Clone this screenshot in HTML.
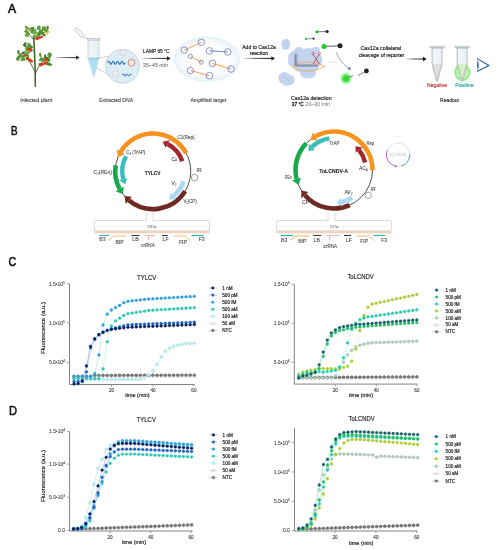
<!DOCTYPE html>
<html><head><meta charset="utf-8"><title>Figure</title>
<style>html,body{margin:0;padding:0;background:#fff;} svg{display:block;} text{font-family:"Liberation Sans", "DejaVu Sans", sans-serif;}</style>
</head><body>
<svg width="497" height="550" viewBox="0 0 497 550">
<rect width="497" height="550" fill="#fff"/>
<text x="8.10" y="13.00" font-size="12.6" fill="#111" textLength="8.1" lengthAdjust="spacingAndGlyphs" stroke="#111" stroke-width="0.6">A</text>
<text x="10.90" y="134.70" font-size="12.6" fill="#111" textLength="6.6" lengthAdjust="spacingAndGlyphs" stroke="#111" stroke-width="0.6">B</text>
<text x="8.40" y="266.10" font-size="12.6" fill="#111" textLength="7.7" lengthAdjust="spacingAndGlyphs" stroke="#111" stroke-width="0.6">C</text>
<text x="8.90" y="415.30" font-size="12.6" fill="#111" textLength="8.0" lengthAdjust="spacingAndGlyphs" stroke="#111" stroke-width="0.6">D</text>
<path d="M35.3,86.3 L35.2,70 L34.6,55 L34,42 L33.5,36" stroke="#46682a" stroke-width="1.6" fill="none" stroke-linecap="round"/>
<path d="M35,72 L31,64 L26,57 L20,54" stroke="#46682a" stroke-width="0.9" fill="none"/>
<path d="M35.2,74 L38.5,67 L43,60 L48,57" stroke="#46682a" stroke-width="0.9" fill="none"/>
<path d="M34.5,52 L30,48 L25,46" stroke="#46682a" stroke-width="0.8" fill="none"/>
<path d="M33.8,40 L40,34 L47,31 M33.8,40 L29,34 L26,30" stroke="#46682a" stroke-width="0.8" fill="none"/>
<ellipse cx="32.9" cy="28.7" rx="2.3" ry="1.15" transform="rotate(117 32.9 28.7)" fill="#4f8f30"/>
<ellipse cx="44.4" cy="28.0" rx="2.3" ry="1.15" transform="rotate(105 44.4 28.0)" fill="#5f9f3a"/>
<ellipse cx="26.4" cy="31.8" rx="2.3" ry="1.15" transform="rotate(13 26.4 31.8)" fill="#4f8f30"/>
<ellipse cx="38.2" cy="27.7" rx="2.3" ry="1.15" transform="rotate(102 38.2 27.7)" fill="#5f9f3a"/>
<ellipse cx="40.0" cy="33.4" rx="2.3" ry="1.15" transform="rotate(11 40.0 33.4)" fill="#72b048"/>
<ellipse cx="26.6" cy="29.4" rx="2.3" ry="1.15" transform="rotate(100 26.6 29.4)" fill="#5f9f3a"/>
<ellipse cx="32.2" cy="28.6" rx="2.3" ry="1.15" transform="rotate(21 32.2 28.6)" fill="#3f7a26"/>
<ellipse cx="38.4" cy="34.5" rx="2.3" ry="1.15" transform="rotate(19 38.4 34.5)" fill="#5f9f3a"/>
<ellipse cx="34.1" cy="33.0" rx="2.3" ry="1.15" transform="rotate(11 34.1 33.0)" fill="#4f8f30"/>
<ellipse cx="39.7" cy="32.5" rx="2.3" ry="1.15" transform="rotate(96 39.7 32.5)" fill="#3f7a26"/>
<ellipse cx="36.2" cy="37.2" rx="2.3" ry="1.15" transform="rotate(65 36.2 37.2)" fill="#5f9f3a"/>
<ellipse cx="43.8" cy="34.7" rx="2.3" ry="1.15" transform="rotate(44 43.8 34.7)" fill="#3f7a26"/>
<ellipse cx="37.6" cy="36.6" rx="2.3" ry="1.15" transform="rotate(131 37.6 36.6)" fill="#3f7a26"/>
<ellipse cx="39.5" cy="27.8" rx="2.3" ry="1.15" transform="rotate(92 39.5 27.8)" fill="#5f9f3a"/>
<ellipse cx="42.9" cy="28.7" rx="2.3" ry="1.15" transform="rotate(88 42.9 28.7)" fill="#4f8f30"/>
<ellipse cx="47.6" cy="27.9" rx="2.3" ry="1.15" transform="rotate(100 47.6 27.9)" fill="#3f7a26"/>
<ellipse cx="33.3" cy="30.9" rx="2.3" ry="1.15" transform="rotate(89 33.3 30.9)" fill="#72b048"/>
<ellipse cx="27.1" cy="28.0" rx="2.3" ry="1.15" transform="rotate(49 27.1 28.0)" fill="#4f8f30"/>
<ellipse cx="26.9" cy="34.7" rx="2.3" ry="1.15" transform="rotate(116 26.9 34.7)" fill="#72b048"/>
<ellipse cx="32.0" cy="31.2" rx="2.3" ry="1.15" transform="rotate(120 32.0 31.2)" fill="#4f8f30"/>
<ellipse cx="47.1" cy="30.9" rx="2.3" ry="1.15" transform="rotate(110 47.1 30.9)" fill="#72b048"/>
<ellipse cx="26.9" cy="35.5" rx="2.3" ry="1.15" transform="rotate(23 26.9 35.5)" fill="#5f9f3a"/>
<ellipse cx="34.7" cy="37.1" rx="2.3" ry="1.15" transform="rotate(89 34.7 37.1)" fill="#5f9f3a"/>
<ellipse cx="35.8" cy="33.0" rx="2.3" ry="1.15" transform="rotate(159 35.8 33.0)" fill="#72b048"/>
<ellipse cx="45.4" cy="30.1" rx="2.3" ry="1.15" transform="rotate(75 45.4 30.1)" fill="#3f7a26"/>
<ellipse cx="41.2" cy="31.2" rx="2.3" ry="1.15" transform="rotate(42 41.2 31.2)" fill="#4f8f30"/>
<ellipse cx="29.6" cy="29.6" rx="2.3" ry="1.15" transform="rotate(42 29.6 29.6)" fill="#72b048"/>
<ellipse cx="44.6" cy="29.0" rx="2.3" ry="1.15" transform="rotate(51 44.6 29.0)" fill="#5f9f3a"/>
<ellipse cx="35.1" cy="31.1" rx="2.3" ry="1.15" transform="rotate(102 35.1 31.1)" fill="#5f9f3a"/>
<ellipse cx="41.4" cy="32.7" rx="2.3" ry="1.15" transform="rotate(111 41.4 32.7)" fill="#4f8f30"/>
<ellipse cx="36.0" cy="36.6" rx="2.3" ry="1.15" transform="rotate(171 36.0 36.6)" fill="#72b048"/>
<ellipse cx="34.7" cy="31.3" rx="2.3" ry="1.15" transform="rotate(87 34.7 31.3)" fill="#72b048"/>
<ellipse cx="26.9" cy="27.7" rx="2.3" ry="1.15" transform="rotate(38 26.9 27.7)" fill="#5f9f3a"/>
<ellipse cx="28.0" cy="33.6" rx="2.3" ry="1.15" transform="rotate(18 28.0 33.6)" fill="#5f9f3a"/>
<ellipse cx="26.9" cy="49.4" rx="2.3" ry="1.15" transform="rotate(110 26.9 49.4)" fill="#4f8f30"/>
<ellipse cx="30.2" cy="47.2" rx="2.3" ry="1.15" transform="rotate(27 30.2 47.2)" fill="#3f7a26"/>
<ellipse cx="31.1" cy="47.2" rx="2.3" ry="1.15" transform="rotate(85 31.1 47.2)" fill="#4f8f30"/>
<ellipse cx="30.0" cy="49.7" rx="2.3" ry="1.15" transform="rotate(84 30.0 49.7)" fill="#72b048"/>
<ellipse cx="24.6" cy="44.2" rx="2.3" ry="1.15" transform="rotate(135 24.6 44.2)" fill="#3f7a26"/>
<ellipse cx="26.3" cy="47.7" rx="2.3" ry="1.15" transform="rotate(93 26.3 47.7)" fill="#5f9f3a"/>
<ellipse cx="31.0" cy="46.7" rx="2.3" ry="1.15" transform="rotate(26 31.0 46.7)" fill="#4f8f30"/>
<ellipse cx="29.1" cy="45.2" rx="2.3" ry="1.15" transform="rotate(116 29.1 45.2)" fill="#4f8f30"/>
<ellipse cx="28.5" cy="45.0" rx="2.3" ry="1.15" transform="rotate(66 28.5 45.0)" fill="#5f9f3a"/>
<ellipse cx="25.1" cy="44.7" rx="2.3" ry="1.15" transform="rotate(97 25.1 44.7)" fill="#3f7a26"/>
<ellipse cx="27.9" cy="47.2" rx="2.3" ry="1.15" transform="rotate(142 27.9 47.2)" fill="#5f9f3a"/>
<ellipse cx="27.2" cy="58.2" rx="2.3" ry="1.15" transform="rotate(133 27.2 58.2)" fill="#5f9f3a"/>
<ellipse cx="19.9" cy="55.4" rx="2.3" ry="1.15" transform="rotate(132 19.9 55.4)" fill="#4f8f30"/>
<ellipse cx="27.0" cy="55.3" rx="2.3" ry="1.15" transform="rotate(35 27.0 55.3)" fill="#3f7a26"/>
<ellipse cx="22.9" cy="59.2" rx="2.3" ry="1.15" transform="rotate(178 22.9 59.2)" fill="#3f7a26"/>
<ellipse cx="18.5" cy="52.2" rx="2.3" ry="1.15" transform="rotate(85 18.5 52.2)" fill="#3f7a26"/>
<ellipse cx="20.0" cy="56.5" rx="2.3" ry="1.15" transform="rotate(162 20.0 56.5)" fill="#4f8f30"/>
<ellipse cx="23.3" cy="56.8" rx="2.3" ry="1.15" transform="rotate(144 23.3 56.8)" fill="#4f8f30"/>
<ellipse cx="27.5" cy="52.3" rx="2.3" ry="1.15" transform="rotate(70 27.5 52.3)" fill="#5f9f3a"/>
<ellipse cx="23.2" cy="52.8" rx="2.3" ry="1.15" transform="rotate(142 23.2 52.8)" fill="#3f7a26"/>
<ellipse cx="18.5" cy="59.2" rx="2.3" ry="1.15" transform="rotate(130 18.5 59.2)" fill="#72b048"/>
<ellipse cx="22.3" cy="59.3" rx="2.3" ry="1.15" transform="rotate(130 22.3 59.3)" fill="#5f9f3a"/>
<ellipse cx="29.4" cy="51.5" rx="2.3" ry="1.15" transform="rotate(106 29.4 51.5)" fill="#72b048"/>
<ellipse cx="27.2" cy="52.5" rx="2.3" ry="1.15" transform="rotate(149 27.2 52.5)" fill="#72b048"/>
<ellipse cx="25.4" cy="54.2" rx="2.3" ry="1.15" transform="rotate(99 25.4 54.2)" fill="#5f9f3a"/>
<ellipse cx="17.8" cy="58.0" rx="2.3" ry="1.15" transform="rotate(131 17.8 58.0)" fill="#4f8f30"/>
<ellipse cx="23.8" cy="59.1" rx="2.3" ry="1.15" transform="rotate(78 23.8 59.1)" fill="#5f9f3a"/>
<ellipse cx="49.2" cy="56.0" rx="2.3" ry="1.15" transform="rotate(45 49.2 56.0)" fill="#3f7a26"/>
<ellipse cx="45.0" cy="62.7" rx="2.3" ry="1.15" transform="rotate(59 45.0 62.7)" fill="#72b048"/>
<ellipse cx="49.3" cy="54.2" rx="2.3" ry="1.15" transform="rotate(133 49.3 54.2)" fill="#72b048"/>
<ellipse cx="47.1" cy="63.3" rx="2.3" ry="1.15" transform="rotate(93 47.1 63.3)" fill="#5f9f3a"/>
<ellipse cx="45.4" cy="59.8" rx="2.3" ry="1.15" transform="rotate(3 45.4 59.8)" fill="#72b048"/>
<ellipse cx="48.6" cy="60.8" rx="2.3" ry="1.15" transform="rotate(140 48.6 60.8)" fill="#5f9f3a"/>
<ellipse cx="40.7" cy="59.2" rx="2.3" ry="1.15" transform="rotate(131 40.7 59.2)" fill="#4f8f30"/>
<ellipse cx="42.7" cy="59.7" rx="2.3" ry="1.15" transform="rotate(100 42.7 59.7)" fill="#4f8f30"/>
<ellipse cx="50.0" cy="54.2" rx="2.3" ry="1.15" transform="rotate(34 50.0 54.2)" fill="#4f8f30"/>
<ellipse cx="48.5" cy="59.6" rx="2.3" ry="1.15" transform="rotate(101 48.5 59.6)" fill="#4f8f30"/>
<ellipse cx="44.3" cy="60.9" rx="2.3" ry="1.15" transform="rotate(91 44.3 60.9)" fill="#5f9f3a"/>
<ellipse cx="47.5" cy="58.9" rx="2.3" ry="1.15" transform="rotate(96 47.5 58.9)" fill="#72b048"/>
<ellipse cx="45.1" cy="56.5" rx="2.3" ry="1.15" transform="rotate(94 45.1 56.5)" fill="#3f7a26"/>
<ellipse cx="50.5" cy="64.2" rx="2.3" ry="1.15" transform="rotate(36 50.5 64.2)" fill="#72b048"/>
<ellipse cx="40.3" cy="55.0" rx="2.3" ry="1.15" transform="rotate(80 40.3 55.0)" fill="#4f8f30"/>
<ellipse cx="47.2" cy="58.6" rx="2.3" ry="1.15" transform="rotate(38 47.2 58.6)" fill="#3f7a26"/>
<ellipse cx="48.7" cy="64.3" rx="2.3" ry="1.15" transform="rotate(28 48.7 64.3)" fill="#3f7a26"/>
<ellipse cx="40.4" cy="64.1" rx="2.3" ry="1.15" transform="rotate(174 40.4 64.1)" fill="#5f9f3a"/>
<circle cx="37.2" cy="38.6" r="1.7" fill="#e2321c"/>
<circle cx="39.8" cy="37.6" r="1.4" fill="#e2321c"/>
<circle cx="41.8" cy="36.8" r="1.2" fill="#e2321c"/>
<circle cx="29.1" cy="48.9" r="1.5" fill="#e2321c"/>
<circle cx="30.8" cy="50.4" r="1.4" fill="#e2321c"/>
<circle cx="27.7" cy="58.6" r="1.6" fill="#e2321c"/>
<circle cx="29.9" cy="59.9" r="1.5" fill="#e2321c"/>
<circle cx="31.5" cy="61.2" r="1.4" fill="#e2321c"/>
<circle cx="40.7" cy="64.8" r="1.7" fill="#e2321c"/>
<circle cx="42.8" cy="64.2" r="1.4" fill="#e2321c"/>
<circle cx="46.1" cy="59.4" r="1.6" fill="#e2321c"/>
<circle cx="45.6" cy="63.2" r="1.5" fill="#e2321c"/>
<circle cx="24.5" cy="55" r="1.1" fill="#e2321c"/>
<circle cx="27.5" cy="29.5" r="0.9" fill="#e9b52a"/>
<circle cx="29.5" cy="31" r="0.9" fill="#e9b52a"/>
<circle cx="45" cy="32" r="0.9" fill="#e9b52a"/>
<circle cx="47" cy="34" r="0.9" fill="#e9b52a"/>
<circle cx="48.5" cy="32" r="0.9" fill="#e9b52a"/>
<text x="36.20" y="101.50" font-size="5.9" fill="#333" text-anchor="middle" textLength="32" lengthAdjust="spacingAndGlyphs" stroke="#333" stroke-width="0.08">Infected plant</text>
<defs><linearGradient id="ag1" x1="0" x2="1" y1="0" y2="0"><stop offset="0" stop-color="#cfcfcf"/><stop offset="0.45" stop-color="#555"/><stop offset="1" stop-color="#111"/></linearGradient></defs>
<rect x="55.7" y="57.15" width="20.89999999999999" height="0.9" fill="url(#ag1)"/>
<polygon points="79.5,57.6 76.1,55.56 76.1,59.64" fill="#111"/>
<rect x="73.5" y="31" width="12" height="3.4" rx="1.5" transform="rotate(48 79.5 32.7)" fill="#f4f7f9" stroke="#9aa6ae" stroke-width="0.55"/>
<path d="M84,37 L87.5,38.8" stroke="#9aa6ae" stroke-width="0.6"/>
<rect x="87.2" y="38.6" width="12.6" height="1.6" fill="#e2e9ee" stroke="#9aa6ae" stroke-width="0.5"/>
<path d="M88,40.2 L99,40.2 L99,57.8 L94.2,76.4 L93.4,76.4 L88,57.8 Z" fill="#eef3f6" stroke="#a8b4bc" stroke-width="0.5"/>
<path d="M88.2,57.8 L98.8,57.8 L94.1,76 L93.5,76 Z" fill="#ade0f5"/>
<path d="M88.6,58.4 L98.4,58.4" stroke="#7cc4e8" stroke-width="0.8"/>
<line x1="96.5" y1="44" x2="98.6" y2="44" stroke="#9aa6ae" stroke-width="0.4"/><line x1="96.5" y1="48" x2="98.6" y2="48" stroke="#9aa6ae" stroke-width="0.4"/><line x1="96.5" y1="52" x2="98.6" y2="52" stroke="#9aa6ae" stroke-width="0.4"/>
<path d="M95.8,58.6 L108.6,56.2 M95.8,67.5 L109.5,75.6" stroke="#999" stroke-width="0.45" fill="none"/>
<circle cx="122.5" cy="66.3" r="16.9" fill="#dcedf7" stroke="#a8b6be" stroke-width="0.55"/>
<path d="M107.6,62.7 q1.1,-3 2.2,0 t2.2,0 t2.2,0 t2.2,0 t2.2,0 t2.2,0 t2.2,0 t2.2,0" stroke="#2f6fb0" stroke-width="1.15" fill="none"/>
<path d="M122.3,75 q0.9,-2.4 1.8,0 t1.8,0 t1.8,0 t1.8,0 t1.8,0" stroke="#2f6fb0" stroke-width="0.95" fill="none"/>
<circle cx="131.5" cy="62.7" r="3.4" fill="none" stroke="#f07a52" stroke-width="0.9"/>
<circle cx="123.1" cy="53" r="3.1" fill="none" stroke="#efc0b4" stroke-width="0.6"/>
<circle cx="115.4" cy="74" r="3.4" fill="none" stroke="#efc0b4" stroke-width="0.6"/>
<text x="116.20" y="101.50" font-size="5.9" fill="#333" text-anchor="middle" textLength="34" lengthAdjust="spacingAndGlyphs" stroke="#333" stroke-width="0.08">Extracted DNA</text>
<text x="143.00" y="53.00" font-size="5.9" fill="#222" textLength="26.5" lengthAdjust="spacingAndGlyphs" stroke="#222" stroke-width="0.18">LAMP 65 °C</text>
<defs><linearGradient id="ag2" x1="0" x2="1" y1="0" y2="0"><stop offset="0" stop-color="#cfcfcf"/><stop offset="0.45" stop-color="#555"/><stop offset="1" stop-color="#111"/></linearGradient></defs>
<rect x="143" y="57.9" width="24.5" height="1.0" fill="url(#ag2)"/>
<polygon points="170.6,58.4 167.0,56.239999999999995 167.0,60.56" fill="#111"/>
<text x="143.00" y="67.20" font-size="5.9" fill="#888" textLength="25" lengthAdjust="spacingAndGlyphs" stroke="#888" stroke-width="0.18">35–45 min</text>
<defs><radialGradient id="blobg" cx="0.5" cy="0.5" r="0.5"><stop offset="0.6" stop-color="#ffffff"/><stop offset="0.88" stop-color="#f0f7fb"/><stop offset="1" stop-color="#e2f0f7"/></radialGradient></defs>
<ellipse cx="207" cy="59.2" rx="33.2" ry="22.7" fill="url(#blobg)"/>
<line x1="184.3" y1="50.1" x2="201.4" y2="42.3" stroke="#f5a050" stroke-width="1"/>
<circle cx="184.3" cy="50.1" r="3.2" fill="none" stroke="#7379bb" stroke-width="0.8"/>
<circle cx="201.4" cy="42.3" r="3.2" fill="none" stroke="#7379bb" stroke-width="0.8"/>
<line x1="209.5" y1="50.9" x2="227.8" y2="51.9" stroke="#7a80c4" stroke-width="1"/>
<circle cx="209.5" cy="50.9" r="3.3" fill="none" stroke="#7379bb" stroke-width="0.8"/>
<circle cx="227.8" cy="51.9" r="3.3" fill="none" stroke="#7379bb" stroke-width="0.8"/>
<line x1="190.4" y1="56.4" x2="201.4" y2="62.2" stroke="#f5a050" stroke-width="1"/>
<circle cx="190.4" cy="56.4" r="2.1" fill="none" stroke="#7379bb" stroke-width="0.8"/>
<circle cx="201.4" cy="62.2" r="2" fill="none" stroke="#7379bb" stroke-width="0.8"/>
<line x1="212.5" y1="63.4" x2="231.1" y2="69" stroke="#f5a050" stroke-width="1"/>
<circle cx="212.5" cy="63.4" r="3.3" fill="none" stroke="#7379bb" stroke-width="0.8"/>
<circle cx="231.1" cy="69" r="3.3" fill="none" stroke="#7379bb" stroke-width="0.8"/>
<line x1="190.4" y1="70.5" x2="209.5" y2="75.7" stroke="#f5a050" stroke-width="1"/>
<circle cx="190.4" cy="70.5" r="3.2" fill="none" stroke="#7379bb" stroke-width="0.8"/>
<circle cx="209.5" cy="75.7" r="3.3" fill="none" stroke="#7379bb" stroke-width="0.8"/>
<text x="208.40" y="101.50" font-size="5.9" fill="#333" text-anchor="middle" textLength="36" lengthAdjust="spacingAndGlyphs" stroke="#333" stroke-width="0.08">Amplified target</text>
<text x="259.00" y="48.60" font-size="5.9" fill="#222" text-anchor="middle" textLength="33.6" lengthAdjust="spacingAndGlyphs" stroke="#222" stroke-width="0.18">Add to Cas12a</text>
<text x="259.00" y="55.30" font-size="5.9" fill="#222" text-anchor="middle" textLength="18.5" lengthAdjust="spacingAndGlyphs" stroke="#222" stroke-width="0.18">reaction</text>
<defs><linearGradient id="ag3" x1="0" x2="1" y1="0" y2="0"><stop offset="0" stop-color="#cfcfcf"/><stop offset="0.45" stop-color="#555"/><stop offset="1" stop-color="#111"/></linearGradient></defs>
<rect x="244" y="57.9" width="27.899999999999977" height="1.0" fill="url(#ag3)"/>
<polygon points="275,58.4 271.4,56.239999999999995 271.4,60.56" fill="#111"/>
<ellipse cx="297" cy="56" rx="8" ry="6" fill="#c4d4f0"/>
<ellipse cx="309" cy="56" rx="10" ry="8" fill="#c4d4f0"/>
<ellipse cx="316.5" cy="60" rx="6" ry="7" fill="#c4d4f0"/>
<ellipse cx="306" cy="66" rx="13" ry="7" fill="#c4d4f0"/>
<ellipse cx="308" cy="73" rx="8" ry="5.5" fill="#c4d4f0"/>
<ellipse cx="292" cy="62" rx="4" ry="4.5" fill="#c4d4f0"/>
<ellipse cx="316" cy="50.5" rx="4" ry="3.8" fill="#c4d4f0"/>
<ellipse cx="299" cy="51" rx="4.5" ry="4" fill="#c4d4f0"/>
<ellipse cx="291" cy="57" rx="3" ry="3.5" fill="#c4d4f0"/>
<ellipse cx="285.8" cy="44.3" rx="4.6" ry="5.5" fill="#c4d4f0"/>
<ellipse cx="284.5" cy="78" rx="6.2" ry="6" fill="#c4d4f0"/>
<ellipse cx="290" cy="80" rx="4.5" ry="5" fill="#c4d4f0"/>
<ellipse cx="287" cy="83" rx="4" ry="2.8" fill="#c4d4f0"/>
<path d="M283,75 L289,81 M285,43 L288,47" stroke="#a8b8d8" stroke-width="0.6" fill="none"/>
<path d="M291.9,67 Q305,57 325.1,66.6 Q305,76 291.9,67 Z" fill="none" stroke="#f2a24a" stroke-width="0.75"/>
<path d="M295.8,65.8 L295.8,54.5 M295.8,65.8 L317.9,65.8" stroke="#7a8096" stroke-width="1.3" fill="none"/>
<path d="M294.6,65 L294.6,54.2 A1.3,1.3 0 0 1 297.1,54.2 L297.1,64.6 L317.9,64.6" stroke="#7a8096" stroke-width="0.5" fill="none"/>
<path d="M313,54 L319.5,64 M319.5,54 L313,64" stroke="#b02828" stroke-width="0.7"/><circle cx="313" cy="53.5" r="1.1" fill="none" stroke="#b02828" stroke-width="0.5"/><circle cx="319.5" cy="53.5" r="1.1" fill="none" stroke="#b02828" stroke-width="0.5"/>
<line x1="316.9" y1="31.8" x2="327.1" y2="31.5" stroke="#5a5a9a" stroke-width="0.82"/>
<circle cx="316.9" cy="31.8" r="1.6" fill="#22c322"/>
<circle cx="327.1" cy="31.5" r="1.6" fill="#222"/>
<line x1="306.0" y1="38.9" x2="313.6" y2="38.6" stroke="#5a5a9a" stroke-width="0.71"/>
<circle cx="306.0" cy="38.9" r="1.05" fill="#22c322"/>
<circle cx="313.6" cy="38.6" r="1.05" fill="#222"/>
<line x1="324.1" y1="46.4" x2="340.0" y2="45.8" stroke="#5a5a9a" stroke-width="1.00"/>
<circle cx="324.1" cy="46.4" r="2.5" fill="#22c322"/>
<circle cx="340.0" cy="45.8" r="2.5" fill="#222"/>
<path d="M336.2,52.1 Q340,63 350.2,69" stroke="#5060b0" stroke-width="0.55" fill="none"/><polygon points="351.2,69.6 347.4,69.4 349.2,66.7" fill="#5060b0"/>
<defs><radialGradient id="glowg" cx="0.5" cy="0.5" r="0.5"><stop offset="0" stop-color="#30d030"/><stop offset="0.4" stop-color="#40dc40"/><stop offset="0.6" stop-color="#8aeb8a" stop-opacity="0.8"/><stop offset="1" stop-color="#c8f6c8" stop-opacity="0"/></radialGradient></defs>
<circle cx="346" cy="78.5" r="7.2" fill="url(#glowg)"/>
<line x1="348.6" y1="77.4" x2="353" y2="75.6" stroke="#5a5a8a" stroke-width="0.7"/>
<line x1="358" y1="75.5" x2="364.5" y2="72" stroke="#5a5aa0" stroke-width="0.8"/><circle cx="366.4" cy="71" r="2.4" fill="#222"/>
<path d="M327.5,62.5 l1.2,-0.8 l1.2,0.8 l1.2,-0.8 l1.2,0.8 l1.2,-0.8 l1.2,0.8 l1.2,-0.8 l1.2,0.8" stroke="#aaa" stroke-width="0.45" fill="none"/>
<text x="311.30" y="99.50" font-size="5.9" fill="#222" text-anchor="middle" textLength="40.5" lengthAdjust="spacingAndGlyphs" stroke="#222" stroke-width="0.18">Cas12a detection</text>
<text x="291.80" y="106.00" font-size="5.9" fill="#222" textLength="12" lengthAdjust="spacingAndGlyphs" stroke="#222" stroke-width="0.3">37 °C</text>
<text x="305.50" y="106.00" font-size="5.9" fill="#999" textLength="24.5" lengthAdjust="spacingAndGlyphs" stroke="#999" stroke-width="0.18">20–30 min</text>
<text x="380.80" y="49.90" font-size="5.9" fill="#222" text-anchor="middle" textLength="40.8" lengthAdjust="spacingAndGlyphs" stroke="#222" stroke-width="0.18">Cas12a collateral</text>
<text x="381.50" y="56.80" font-size="5.9" fill="#222" text-anchor="middle" textLength="45.7" lengthAdjust="spacingAndGlyphs" stroke="#222" stroke-width="0.18">cleavage of reporter</text>
<defs><linearGradient id="ag4" x1="0" x2="1" y1="0" y2="0"><stop offset="0" stop-color="#cfcfcf"/><stop offset="0.45" stop-color="#555"/><stop offset="1" stop-color="#111"/></linearGradient></defs>
<rect x="406.6" y="58.5" width="16.899999999999977" height="1.0" fill="url(#ag4)"/>
<polygon points="426.6,59 423.0,56.84 423.0,61.16" fill="#111"/>
<path d="M429.5,46.2 L444.70000000000005,46.2 L444.1,48.1 L430.1,48.1 Z" fill="#cbd3d8" stroke="#a5aeb4" stroke-width="0.4"/>
<path d="M432.1,48.1 L442.1,48.1 L442.1,64.1 L437.6,81.2 L436.6,81.2 L432.1,64.1 Z" fill="#eef4f7" stroke="#9aa4aa" stroke-width="0.7"/>
<path d="M432.5,64.1 L441.70000000000005,64.1 L437.45000000000005,80.6 L436.75,80.6 Z" fill="#e2e2e2"/>
<path d="M432.90000000000003,64.6 L437.1,80 L441.3,64.6" fill="none" stroke="#b0b8bc" stroke-width="0.5"/>
<line x1="439.70000000000005" y1="52.2" x2="441.70000000000005" y2="52.2" stroke="#9aa6ae" stroke-width="0.4"/><line x1="439.70000000000005" y1="56.2" x2="441.70000000000005" y2="56.2" stroke="#9aa6ae" stroke-width="0.4"/>
<defs><radialGradient id="tg" cx="0.5" cy="0.5" r="0.5"><stop offset="0" stop-color="#e2f8d8"/><stop offset="0.6" stop-color="#c4f2b4"/><stop offset="0.85" stop-color="#90e88a"/><stop offset="1" stop-color="#c8f5c0" stop-opacity="0.3"/></radialGradient></defs>
<ellipse cx="462.3" cy="72.2" rx="8.6" ry="9.6" fill="url(#tg)"/>
<path d="M454.5,46.2 L469.70000000000005,46.2 L469.1,48.1 L455.1,48.1 Z" fill="#cbd3d8" stroke="#a5aeb4" stroke-width="0.4"/>
<path d="M457.1,48.1 L467.1,48.1 L467.1,64.1 L462.6,81.2 L461.6,81.2 L457.1,64.1 Z" fill="#eef4f7" stroke="#9aa4aa" stroke-width="0.7"/>
<path d="M457.5,64.1 L466.70000000000005,64.1 L462.45000000000005,80.6 L461.75,80.6 Z" fill="#d4f2c4"/>
<path d="M457.90000000000003,64.6 L462.1,80 L466.3,64.6" fill="none" stroke="#b0b8bc" stroke-width="0.5"/>
<line x1="464.70000000000005" y1="52.2" x2="466.70000000000005" y2="52.2" stroke="#9aa6ae" stroke-width="0.4"/><line x1="464.70000000000005" y1="56.2" x2="466.70000000000005" y2="56.2" stroke="#9aa6ae" stroke-width="0.4"/>
<path d="M477.2,58.6 L489,65.5 L477.5,71.3" fill="none" stroke="#1f5f9a" stroke-width="1.1" stroke-linejoin="round" stroke-linecap="round"/>
<path d="M477.6,59.6 Q476.3,65.3 477.8,70.8 Q479.8,65.3 477.6,59.6 Z" fill="#1f5f9a"/>
<text x="437.10" y="87.20" font-size="5.9" fill="#c43a3a" text-anchor="middle" textLength="20" lengthAdjust="spacingAndGlyphs" stroke="#c43a3a" stroke-width="0.18">Negative</text>
<text x="464.40" y="87.20" font-size="5.9" fill="#2aa6a6" text-anchor="middle" textLength="18.5" lengthAdjust="spacingAndGlyphs" stroke="#2aa6a6" stroke-width="0.18">Positive</text>
<text x="449.50" y="102.30" font-size="5.9" fill="#333" text-anchor="middle" textLength="19" lengthAdjust="spacingAndGlyphs" stroke="#333" stroke-width="0.18">Readout</text>
<circle cx="153" cy="171.3" r="37.8" fill="none" stroke="#333" stroke-width="0.85"/>
<path d="M186.19,153.21 A37.8,37.8 0 0 0 120.63,151.78" fill="none" stroke="#f7931e" stroke-width="4.6"/>
<polygon points="117.95,157.14 124.70,154.23 116.56,149.32" fill="#f7931e"/>
<path d="M115.67,165.39 A37.8,37.8 0 0 0 119.60,188.99" fill="none" stroke="#16a84a" stroke-width="4.6"/>
<polygon points="122.81,194.05 123.79,186.77 115.40,191.21" fill="#16a84a"/>
<path d="M185.16,191.16 A37.8,37.8 0 0 1 128.75,200.30" fill="none" stroke="#6e2a22" stroke-width="4.6"/>
<polygon points="124.47,196.10 131.80,196.65 125.70,203.94" fill="#6e2a22"/>
<path d="M182.31,161.21 A31,31 0 0 0 167.63,143.97" fill="none" stroke="#a3262e" stroke-width="4.4"/>
<polygon points="162.58,141.82 165.63,147.72 169.64,140.22" fill="#a3262e"/>
<path d="M126.06,156.37 A30.8,30.8 0 0 0 123.22,179.15" fill="none" stroke="#38bdbd" stroke-width="4.4"/>
<polygon points="125.09,184.32 127.33,178.07 119.11,180.23" fill="#38bdbd"/>
<path d="M183.62,181.25 A32.2,32.2 0 0 1 173.61,196.04" fill="none" stroke="#a9d9f2" stroke-width="4.4"/>
<polygon points="169.10,199.19 170.89,192.78 176.33,199.31" fill="#a9d9f2"/>
<circle cx="194.6" cy="177.6" r="3.3" fill="#fff" stroke="#555" stroke-width="0.55"/>
<text x="152.60" y="174.70" font-size="5.9" fill="#111" text-anchor="middle" font-weight="bold" textLength="15.7" lengthAdjust="spacingAndGlyphs" stroke="#111" stroke-width="0.05">TYLCV</text>
<text x="177.50" y="139.00" font-size="5.0" fill="#444" textLength="17.1" lengthAdjust="spacingAndGlyphs" stroke="#444" stroke-width="0.08">C1(Rep)</text>
<text x="126.20" y="153.70" font-size="5.0" fill="#444" textLength="19.1" lengthAdjust="spacingAndGlyphs" stroke="#444" stroke-width="0.08">C<tspan font-size="3" dy="0.8">3</tspan><tspan dy="-0.8"> (TrAP)</tspan></text>
<text x="171.40" y="160.60" font-size="5.0" fill="#444" stroke="#444" stroke-width="0.08">C<tspan font-size="3" dy="0.8">4</tspan></text>
<text x="111.90" y="174.30" font-size="5.0" fill="#444" text-anchor="end" stroke="#444" stroke-width="0.08">C<tspan font-size="3" dy="0.8">2</tspan><tspan dy="-0.8">(REn)</tspan></text>
<text x="196.60" y="172.30" font-size="5.0" fill="#444" stroke="#444" stroke-width="0.08">IR</text>
<text x="171.40" y="185.30" font-size="5.0" fill="#444" stroke="#444" stroke-width="0.08">V<tspan font-size="3" dy="0.8">2</tspan></text>
<text x="183.50" y="203.00" font-size="5.0" fill="#444" textLength="13.1" lengthAdjust="spacingAndGlyphs" stroke="#444" stroke-width="0.08">V<tspan font-size="3" dy="0.8">1</tspan><tspan dy="-0.8">(CP)</tspan></text>
<circle cx="334" cy="170" r="38.5" fill="none" stroke="#333" stroke-width="0.85"/>
<path d="M372.50,170.34 A38.5,38.5 0 0 0 315.29,136.35" fill="none" stroke="#f7931e" stroke-width="4.6"/>
<polygon points="310.30,139.66 317.60,140.50 312.99,132.20" fill="#f7931e"/>
<path d="M306.31,143.26 A38.5,38.5 0 0 0 296.57,179.03" fill="none" stroke="#16a84a" stroke-width="4.6"/>
<polygon points="298.43,184.73 301.19,177.92 291.96,180.15" fill="#16a84a"/>
<path d="M349.78,205.12 A38.5,38.5 0 0 1 304.91,195.22" fill="none" stroke="#6e2a22" stroke-width="4.6"/>
<polygon points="301.35,190.40 308.50,192.11 301.32,198.33" fill="#6e2a22"/>
<path d="M329.33,138.34 A32,32 0 0 0 311.91,146.85" fill="none" stroke="#38bdbd" stroke-width="4.4"/>
<polygon points="308.28,150.97 314.84,149.92 308.98,143.77" fill="#38bdbd"/>
<path d="M365.12,162.53 A32,32 0 0 0 359.16,150.23" fill="none" stroke="#a3262e" stroke-width="4.4"/>
<polygon points="355.41,146.22 355.82,152.86 362.51,147.61" fill="#a3262e"/>
<path d="M352.17,197.55 A33,33 0 0 1 341.73,202.08" fill="none" stroke="#a9d9f2" stroke-width="4.4"/>
<polygon points="336.30,202.92 340.74,197.95 342.73,206.21" fill="#a9d9f2"/>
<circle cx="368.3" cy="195.4" r="3.1" fill="#fff" stroke="#555" stroke-width="0.55"/>
<text x="333.60" y="173.30" font-size="5.9" fill="#111" text-anchor="middle" font-weight="bold" textLength="28.8" lengthAdjust="spacingAndGlyphs" stroke="#111" stroke-width="0.05">ToLCNDV-A</text>
<text x="329.30" y="145.10" font-size="5.0" fill="#444" textLength="10.1" lengthAdjust="spacingAndGlyphs" stroke="#444" stroke-width="0.08">TrAP</text>
<text x="366.50" y="144.50" font-size="5.0" fill="#444" textLength="7.7" lengthAdjust="spacingAndGlyphs" stroke="#444" stroke-width="0.08">Rep</text>
<text x="358.90" y="169.70" font-size="5.0" fill="#444" stroke="#444" stroke-width="0.08">AC<tspan font-size="3.2" dy="0.9">4</tspan></text>
<text x="285.00" y="178.90" font-size="5.0" fill="#444" textLength="6.7" lengthAdjust="spacingAndGlyphs" stroke="#444" stroke-width="0.08">REn</text>
<text x="370.50" y="191.40" font-size="5.0" fill="#444" stroke="#444" stroke-width="0.08">IR</text>
<text x="344.40" y="194.40" font-size="5.0" fill="#444" stroke="#444" stroke-width="0.08">AV<tspan font-size="3.2" dy="0.9">2</tspan></text>
<text x="302.10" y="203.90" font-size="5.0" fill="#444" stroke="#444" stroke-width="0.08">CP</text>
<circle cx="398.1" cy="154.7" r="11.7" fill="none" stroke="#d0d0d0" stroke-width="0.6"/>
<path d="M387.3,150.2 A11.7,11.7 0 0 0 395.9,166.2" fill="none" stroke="#b455e6" stroke-width="0.9"/>
<polygon points="397.4,166.4 395.2,164.9 395.3,167.6" fill="#b455e6"/>
<path d="M409.8,154.2 A11.7,11.7 0 0 1 401.2,166" fill="none" stroke="#2aa0e8" stroke-width="0.9"/>
<line x1="398.1" y1="142" x2="398.1" y2="143.8" stroke="#bbb" stroke-width="0.4"/>
<text x="397.60" y="156.00" font-size="3.3" fill="#b8b8b8" text-anchor="middle" textLength="16.5" lengthAdjust="spacingAndGlyphs">ToLCNDV-A</text>
<text x="398.00" y="137.30" font-size="2.4" fill="#e4e4e4" text-anchor="middle" textLength="11" lengthAdjust="spacingAndGlyphs">ToLCNDV-A</text>
<path d="M146.7,212.2 L146.7,220.5 L95.4,220.5 Q94.4,220.5 94.4,221.5 L94.4,230.4 M153.2,212.2 L153.2,220.5 L208.5,220.5 Q209.5,220.5 209.5,221.5 L209.5,230.4" fill="none" stroke="#bdbdbd" stroke-width="0.55"/>
<rect x="94.4" y="230.3" width="115.1" height="3.1" fill="#ecd5c1"/>
<line x1="96.4" y1="226.7" x2="207.5" y2="226.7" stroke="#e2e2e2" stroke-width="0.4"/>
<text x="151.95" y="227.60" font-size="2.9" fill="#555" text-anchor="middle">239 bp</text>
<line x1="99.2" y1="235.5" x2="109.3" y2="235.5" stroke="#2bb3b3" stroke-width="1.1"/>
<text x="99.20" y="241.30" font-size="5.2" fill="#3a3a3a" stroke="#3a3a3a" stroke-width="0.06">B3</text>
<path d="M108.1,240.4 L114.1,236.0 L126.2,236.0" fill="none" stroke="#f4a640" stroke-width="0.8"/>
<text x="115.40" y="243.70" font-size="5.2" fill="#3a3a3a" stroke="#3a3a3a" stroke-width="0.06">BIP</text>
<line x1="131.5" y1="235.5" x2="139.5" y2="235.5" stroke="#333" stroke-width="1.0"/>
<text x="132.30" y="241.30" font-size="5.2" fill="#3a3a3a" stroke="#3a3a3a" stroke-width="0.06">LB</text>
<path d="M145,235.6 L154.7,235.6 M148.4,235.6 L148.4,240.6" fill="none" stroke="#f2a0a8" stroke-width="0.85"/>
<text x="141.20" y="247.30" font-size="5.2" fill="#3a3a3a" textLength="13.5" lengthAdjust="spacingAndGlyphs" stroke="#3a3a3a" stroke-width="0.06">crRNA</text>
<line x1="162" y1="235.5" x2="167.8" y2="235.5" stroke="#333" stroke-width="1.0"/>
<text x="162.50" y="241.30" font-size="5.2" fill="#3a3a3a" stroke="#3a3a3a" stroke-width="0.06">LF</text>
<path d="M173.3,236.0 L184.2,236.0 L190.2,240.6" fill="none" stroke="#f4a640" stroke-width="0.8"/>
<text x="178.90" y="243.70" font-size="5.2" fill="#3a3a3a" stroke="#3a3a3a" stroke-width="0.06">FIP</text>
<line x1="191.4" y1="235.5" x2="203.5" y2="235.5" stroke="#2bb3b3" stroke-width="1.1"/>
<text x="198.70" y="241.30" font-size="5.2" fill="#3a3a3a" stroke="#3a3a3a" stroke-width="0.06">F3</text>
<path d="M328.1,212.2 L328.1,220.5 L277.5,220.5 Q276.5,220.5 276.5,221.5 L276.5,230.4 M334.9,212.2 L334.9,220.5 L390.6,220.5 Q391.6,220.5 391.6,221.5 L391.6,230.4" fill="none" stroke="#bdbdbd" stroke-width="0.55"/>
<rect x="276.5" y="230.3" width="115.10000000000002" height="3.1" fill="#ecd5c1"/>
<line x1="278.5" y1="226.7" x2="389.6" y2="226.7" stroke="#e2e2e2" stroke-width="0.4"/>
<text x="334.05" y="227.60" font-size="2.9" fill="#555" text-anchor="middle">217 bp</text>
<line x1="281" y1="235.5" x2="293" y2="235.5" stroke="#2bb3b3" stroke-width="1.1"/>
<text x="281.00" y="241.90" font-size="5.2" fill="#3a3a3a" stroke="#3a3a3a" stroke-width="0.06">B3</text>
<path d="M289.6,240.4 L295.6,236.0 L309.2,236.0" fill="none" stroke="#f4a640" stroke-width="0.8"/>
<text x="298.20" y="243.20" font-size="5.2" fill="#3a3a3a" stroke="#3a3a3a" stroke-width="0.06">BIP</text>
<line x1="313.2" y1="235.5" x2="321" y2="235.5" stroke="#333" stroke-width="1.0"/>
<text x="313.50" y="241.90" font-size="5.2" fill="#3a3a3a" stroke="#3a3a3a" stroke-width="0.06">LB</text>
<path d="M326.2,235.6 L340.1,235.6 M329.59999999999997,235.6 L329.59999999999997,240.6" fill="none" stroke="#f2a0a8" stroke-width="0.85"/>
<text x="323.60" y="248.40" font-size="5.2" fill="#3a3a3a" textLength="13.5" lengthAdjust="spacingAndGlyphs" stroke="#3a3a3a" stroke-width="0.06">crRNA</text>
<line x1="344" y1="235.5" x2="351.1" y2="235.5" stroke="#333" stroke-width="1.0"/>
<text x="345.90" y="241.90" font-size="5.2" fill="#3a3a3a" stroke="#3a3a3a" stroke-width="0.06">LF</text>
<path d="M356.3,236.0 L368.6,236.0 L374.6,240.6" fill="none" stroke="#f4a640" stroke-width="0.8"/>
<text x="360.20" y="243.20" font-size="5.2" fill="#3a3a3a" stroke="#3a3a3a" stroke-width="0.06">FIP</text>
<line x1="373.3" y1="235.5" x2="385.1" y2="235.5" stroke="#2bb3b3" stroke-width="1.1"/>
<text x="381.20" y="241.90" font-size="5.2" fill="#3a3a3a" stroke="#3a3a3a" stroke-width="0.06">F3</text>
<path d="M69.5,283.8 L69.5,384.5 L194.5,384.5" fill="none" stroke="#7c7c7c" stroke-width="0.95"/>
<line x1="66.8" y1="283.8" x2="69.5" y2="283.8" stroke="#7c7c7c" stroke-width="0.7"/>
<text x="64.90" y="285.60" font-size="5.0" fill="#333" text-anchor="end" textLength="16" lengthAdjust="spacingAndGlyphs" stroke="#333" stroke-width="0.06">1.5•10<tspan font-size="3.3" dy="-2">5</tspan></text>
<line x1="66.8" y1="323.0" x2="69.5" y2="323.0" stroke="#7c7c7c" stroke-width="0.7"/>
<text x="64.90" y="324.80" font-size="5.0" fill="#333" text-anchor="end" textLength="16" lengthAdjust="spacingAndGlyphs" stroke="#333" stroke-width="0.06">1.0•10<tspan font-size="3.3" dy="-2">5</tspan></text>
<line x1="66.8" y1="362.3" x2="69.5" y2="362.3" stroke="#7c7c7c" stroke-width="0.7"/>
<text x="64.90" y="364.10" font-size="5.0" fill="#333" text-anchor="end" textLength="16" lengthAdjust="spacingAndGlyphs" stroke="#333" stroke-width="0.06">5.0•10<tspan font-size="3.3" dy="-2">4</tspan></text>
<line x1="111.5" y1="384.5" x2="111.5" y2="386.8" stroke="#7c7c7c" stroke-width="0.7"/>
<text x="111.50" y="392.10" font-size="4.6" fill="#333" text-anchor="middle" stroke="#333" stroke-width="0.1">20</text>
<line x1="153" y1="384.5" x2="153" y2="386.8" stroke="#7c7c7c" stroke-width="0.7"/>
<text x="153.00" y="392.10" font-size="4.6" fill="#333" text-anchor="middle" stroke="#333" stroke-width="0.1">40</text>
<line x1="193.9" y1="384.5" x2="193.9" y2="386.8" stroke="#7c7c7c" stroke-width="0.7"/>
<text x="193.90" y="392.10" font-size="4.6" fill="#333" text-anchor="middle" stroke="#333" stroke-width="0.1">60</text>
<text x="137.40" y="397.20" font-size="5.6" fill="#222" text-anchor="middle" textLength="24.2" lengthAdjust="spacingAndGlyphs" stroke="#222" stroke-width="0.18">time (min)</text>
<text x="146.70" y="279.80" font-size="6.9" fill="#222" text-anchor="middle" textLength="19.2" lengthAdjust="spacingAndGlyphs" stroke="#222" stroke-width="0.15">TYLCV</text>
<text x="0" y="0" font-size="6.0" fill="#222" stroke="#222" stroke-width="0.15" text-anchor="middle" textLength="52" lengthAdjust="spacingAndGlyphs" transform="translate(45.3 328) rotate(-90)">Fluorescence (a.u.)</text>
<polyline points="74.00,376.00 78.15,376.00 82.30,376.00 86.45,376.00 90.60,376.00 94.75,376.00 98.90,376.00 103.05,376.00 107.20,376.00 111.35,376.00 115.50,376.00 119.65,376.00 123.80,376.00 127.95,376.00 132.10,376.00 136.25,376.00 140.40,376.00 144.55,376.00 148.70,376.00 152.85,376.00 157.00,376.00 161.15,376.00 165.30,376.00 169.45,376.00 173.60,376.00 177.75,376.00 181.90,376.00 186.05,376.00 190.20,376.00 194.35,376.00" fill="none" stroke="#bbbbbb" stroke-width="0.45"/>
<circle cx="74.00" cy="376.00" r="1.38" fill="#ffffff" stroke="#999999" stroke-width="0.4"/>
<circle cx="78.15" cy="376.00" r="1.38" fill="#ffffff" stroke="#999999" stroke-width="0.4"/>
<circle cx="82.30" cy="376.00" r="1.38" fill="#ffffff" stroke="#999999" stroke-width="0.4"/>
<circle cx="86.45" cy="376.00" r="1.38" fill="#ffffff" stroke="#999999" stroke-width="0.4"/>
<circle cx="90.60" cy="376.00" r="1.38" fill="#ffffff" stroke="#999999" stroke-width="0.4"/>
<circle cx="94.75" cy="376.00" r="1.38" fill="#ffffff" stroke="#999999" stroke-width="0.4"/>
<circle cx="98.90" cy="376.00" r="1.38" fill="#ffffff" stroke="#999999" stroke-width="0.4"/>
<circle cx="103.05" cy="376.00" r="1.38" fill="#ffffff" stroke="#999999" stroke-width="0.4"/>
<circle cx="107.20" cy="376.00" r="1.38" fill="#ffffff" stroke="#999999" stroke-width="0.4"/>
<circle cx="111.35" cy="376.00" r="1.38" fill="#ffffff" stroke="#999999" stroke-width="0.4"/>
<circle cx="115.50" cy="376.00" r="1.38" fill="#ffffff" stroke="#999999" stroke-width="0.4"/>
<circle cx="119.65" cy="376.00" r="1.38" fill="#ffffff" stroke="#999999" stroke-width="0.4"/>
<circle cx="123.80" cy="376.00" r="1.38" fill="#ffffff" stroke="#999999" stroke-width="0.4"/>
<circle cx="127.95" cy="376.00" r="1.38" fill="#ffffff" stroke="#999999" stroke-width="0.4"/>
<circle cx="132.10" cy="376.00" r="1.38" fill="#ffffff" stroke="#999999" stroke-width="0.4"/>
<circle cx="136.25" cy="376.00" r="1.38" fill="#ffffff" stroke="#999999" stroke-width="0.4"/>
<circle cx="140.40" cy="376.00" r="1.38" fill="#ffffff" stroke="#999999" stroke-width="0.4"/>
<circle cx="144.55" cy="376.00" r="1.38" fill="#ffffff" stroke="#999999" stroke-width="0.4"/>
<circle cx="148.70" cy="376.00" r="1.38" fill="#ffffff" stroke="#999999" stroke-width="0.4"/>
<circle cx="152.85" cy="376.00" r="1.38" fill="#ffffff" stroke="#999999" stroke-width="0.4"/>
<circle cx="157.00" cy="376.00" r="1.38" fill="#ffffff" stroke="#999999" stroke-width="0.4"/>
<circle cx="161.15" cy="376.00" r="1.38" fill="#ffffff" stroke="#999999" stroke-width="0.4"/>
<circle cx="165.30" cy="376.00" r="1.38" fill="#ffffff" stroke="#999999" stroke-width="0.4"/>
<circle cx="169.45" cy="376.00" r="1.38" fill="#ffffff" stroke="#999999" stroke-width="0.4"/>
<circle cx="173.60" cy="376.00" r="1.38" fill="#ffffff" stroke="#999999" stroke-width="0.4"/>
<circle cx="177.75" cy="376.00" r="1.38" fill="#ffffff" stroke="#999999" stroke-width="0.4"/>
<circle cx="181.90" cy="376.00" r="1.38" fill="#ffffff" stroke="#999999" stroke-width="0.4"/>
<circle cx="186.05" cy="376.00" r="1.38" fill="#ffffff" stroke="#999999" stroke-width="0.4"/>
<circle cx="190.20" cy="376.00" r="1.38" fill="#ffffff" stroke="#999999" stroke-width="0.4"/>
<circle cx="194.35" cy="376.00" r="1.38" fill="#ffffff" stroke="#999999" stroke-width="0.4"/>
<polyline points="74.00,376.40 78.15,376.40 82.30,376.40 86.45,376.40 90.60,376.40 94.75,375.30 98.90,375.29 103.05,375.28 107.20,375.28 111.35,375.27 115.50,375.26 119.65,375.25 123.80,375.24 127.95,375.23 132.10,375.23 136.25,375.22 140.40,375.21 144.55,375.20 148.70,375.19 152.85,375.18 157.00,375.18 161.15,375.17 165.30,375.16 169.45,375.15 173.60,375.14 177.75,375.13 181.90,375.12 186.05,375.12 190.20,375.11 194.35,375.10" fill="none" stroke="#999999" stroke-width="0.45"/>
<circle cx="74.00" cy="376.40" r="1.38" fill="#7a7a7a" stroke="#4e4e4e" stroke-width="0.4"/>
<circle cx="78.15" cy="376.40" r="1.38" fill="#7a7a7a" stroke="#4e4e4e" stroke-width="0.4"/>
<circle cx="82.30" cy="376.40" r="1.38" fill="#7a7a7a" stroke="#4e4e4e" stroke-width="0.4"/>
<circle cx="86.45" cy="376.40" r="1.38" fill="#7a7a7a" stroke="#4e4e4e" stroke-width="0.4"/>
<circle cx="90.60" cy="376.40" r="1.38" fill="#7a7a7a" stroke="#4e4e4e" stroke-width="0.4"/>
<circle cx="94.75" cy="375.30" r="1.38" fill="#7a7a7a" stroke="#4e4e4e" stroke-width="0.4"/>
<circle cx="98.90" cy="375.29" r="1.38" fill="#7a7a7a" stroke="#4e4e4e" stroke-width="0.4"/>
<circle cx="103.05" cy="375.28" r="1.38" fill="#7a7a7a" stroke="#4e4e4e" stroke-width="0.4"/>
<circle cx="107.20" cy="375.28" r="1.38" fill="#7a7a7a" stroke="#4e4e4e" stroke-width="0.4"/>
<circle cx="111.35" cy="375.27" r="1.38" fill="#7a7a7a" stroke="#4e4e4e" stroke-width="0.4"/>
<circle cx="115.50" cy="375.26" r="1.38" fill="#7a7a7a" stroke="#4e4e4e" stroke-width="0.4"/>
<circle cx="119.65" cy="375.25" r="1.38" fill="#7a7a7a" stroke="#4e4e4e" stroke-width="0.4"/>
<circle cx="123.80" cy="375.24" r="1.38" fill="#7a7a7a" stroke="#4e4e4e" stroke-width="0.4"/>
<circle cx="127.95" cy="375.23" r="1.38" fill="#7a7a7a" stroke="#4e4e4e" stroke-width="0.4"/>
<circle cx="132.10" cy="375.23" r="1.38" fill="#7a7a7a" stroke="#4e4e4e" stroke-width="0.4"/>
<circle cx="136.25" cy="375.22" r="1.38" fill="#7a7a7a" stroke="#4e4e4e" stroke-width="0.4"/>
<circle cx="140.40" cy="375.21" r="1.38" fill="#7a7a7a" stroke="#4e4e4e" stroke-width="0.4"/>
<circle cx="144.55" cy="375.20" r="1.38" fill="#7a7a7a" stroke="#4e4e4e" stroke-width="0.4"/>
<circle cx="148.70" cy="375.19" r="1.38" fill="#7a7a7a" stroke="#4e4e4e" stroke-width="0.4"/>
<circle cx="152.85" cy="375.18" r="1.38" fill="#7a7a7a" stroke="#4e4e4e" stroke-width="0.4"/>
<circle cx="157.00" cy="375.18" r="1.38" fill="#7a7a7a" stroke="#4e4e4e" stroke-width="0.4"/>
<circle cx="161.15" cy="375.17" r="1.38" fill="#7a7a7a" stroke="#4e4e4e" stroke-width="0.4"/>
<circle cx="165.30" cy="375.16" r="1.38" fill="#7a7a7a" stroke="#4e4e4e" stroke-width="0.4"/>
<circle cx="169.45" cy="375.15" r="1.38" fill="#7a7a7a" stroke="#4e4e4e" stroke-width="0.4"/>
<circle cx="173.60" cy="375.14" r="1.38" fill="#7a7a7a" stroke="#4e4e4e" stroke-width="0.4"/>
<circle cx="177.75" cy="375.13" r="1.38" fill="#7a7a7a" stroke="#4e4e4e" stroke-width="0.4"/>
<circle cx="181.90" cy="375.12" r="1.38" fill="#7a7a7a" stroke="#4e4e4e" stroke-width="0.4"/>
<circle cx="186.05" cy="375.12" r="1.38" fill="#7a7a7a" stroke="#4e4e4e" stroke-width="0.4"/>
<circle cx="190.20" cy="375.11" r="1.38" fill="#7a7a7a" stroke="#4e4e4e" stroke-width="0.4"/>
<circle cx="194.35" cy="375.10" r="1.38" fill="#7a7a7a" stroke="#4e4e4e" stroke-width="0.4"/>
<polyline points="74.00,379.40 78.15,379.40 82.30,379.40 86.45,379.40 90.60,379.40 94.75,379.40 98.90,379.40 103.05,379.40 107.20,379.40 111.35,379.40 115.50,379.40 119.65,379.40 123.80,379.40 127.95,379.40 132.10,379.40 136.25,379.40 140.40,379.40 144.55,377.70 148.70,375.00 152.85,370.90 157.00,364.30 161.15,357.10 165.30,351.40 169.45,348.20 173.60,346.40 177.75,345.20 181.90,344.40 186.05,343.80 190.20,343.50 194.35,343.20" fill="none" stroke="#8ee8e8" stroke-width="0.45"/>
<circle cx="74.00" cy="379.40" r="1.38" fill="#d4f3f1" stroke="#62cccc" stroke-width="0.4"/>
<circle cx="78.15" cy="379.40" r="1.38" fill="#d4f3f1" stroke="#62cccc" stroke-width="0.4"/>
<circle cx="82.30" cy="379.40" r="1.38" fill="#d4f3f1" stroke="#62cccc" stroke-width="0.4"/>
<circle cx="86.45" cy="379.40" r="1.38" fill="#d4f3f1" stroke="#62cccc" stroke-width="0.4"/>
<circle cx="90.60" cy="379.40" r="1.38" fill="#d4f3f1" stroke="#62cccc" stroke-width="0.4"/>
<circle cx="94.75" cy="379.40" r="1.38" fill="#d4f3f1" stroke="#62cccc" stroke-width="0.4"/>
<circle cx="98.90" cy="379.40" r="1.38" fill="#d4f3f1" stroke="#62cccc" stroke-width="0.4"/>
<circle cx="103.05" cy="379.40" r="1.38" fill="#d4f3f1" stroke="#62cccc" stroke-width="0.4"/>
<circle cx="107.20" cy="379.40" r="1.38" fill="#d4f3f1" stroke="#62cccc" stroke-width="0.4"/>
<circle cx="111.35" cy="379.40" r="1.38" fill="#d4f3f1" stroke="#62cccc" stroke-width="0.4"/>
<circle cx="115.50" cy="379.40" r="1.38" fill="#d4f3f1" stroke="#62cccc" stroke-width="0.4"/>
<circle cx="119.65" cy="379.40" r="1.38" fill="#d4f3f1" stroke="#62cccc" stroke-width="0.4"/>
<circle cx="123.80" cy="379.40" r="1.38" fill="#d4f3f1" stroke="#62cccc" stroke-width="0.4"/>
<circle cx="127.95" cy="379.40" r="1.38" fill="#d4f3f1" stroke="#62cccc" stroke-width="0.4"/>
<circle cx="132.10" cy="379.40" r="1.38" fill="#d4f3f1" stroke="#62cccc" stroke-width="0.4"/>
<circle cx="136.25" cy="379.40" r="1.38" fill="#d4f3f1" stroke="#62cccc" stroke-width="0.4"/>
<circle cx="140.40" cy="379.40" r="1.38" fill="#d4f3f1" stroke="#62cccc" stroke-width="0.4"/>
<circle cx="144.55" cy="377.70" r="1.38" fill="#d4f3f1" stroke="#62cccc" stroke-width="0.4"/>
<circle cx="148.70" cy="375.00" r="1.38" fill="#d4f3f1" stroke="#62cccc" stroke-width="0.4"/>
<circle cx="152.85" cy="370.90" r="1.38" fill="#d4f3f1" stroke="#62cccc" stroke-width="0.4"/>
<circle cx="157.00" cy="364.30" r="1.38" fill="#d4f3f1" stroke="#62cccc" stroke-width="0.4"/>
<circle cx="161.15" cy="357.10" r="1.38" fill="#d4f3f1" stroke="#62cccc" stroke-width="0.4"/>
<circle cx="165.30" cy="351.40" r="1.38" fill="#d4f3f1" stroke="#62cccc" stroke-width="0.4"/>
<circle cx="169.45" cy="348.20" r="1.38" fill="#d4f3f1" stroke="#62cccc" stroke-width="0.4"/>
<circle cx="173.60" cy="346.40" r="1.38" fill="#d4f3f1" stroke="#62cccc" stroke-width="0.4"/>
<circle cx="177.75" cy="345.20" r="1.38" fill="#d4f3f1" stroke="#62cccc" stroke-width="0.4"/>
<circle cx="181.90" cy="344.40" r="1.38" fill="#d4f3f1" stroke="#62cccc" stroke-width="0.4"/>
<circle cx="186.05" cy="343.80" r="1.38" fill="#d4f3f1" stroke="#62cccc" stroke-width="0.4"/>
<circle cx="190.20" cy="343.50" r="1.38" fill="#d4f3f1" stroke="#62cccc" stroke-width="0.4"/>
<circle cx="194.35" cy="343.20" r="1.38" fill="#d4f3f1" stroke="#62cccc" stroke-width="0.4"/>
<polyline points="74.00,378.60 78.15,378.60 82.30,378.60 86.45,378.60 90.60,378.60 94.75,378.60 98.90,378.60 103.05,369.00 107.20,341.80 111.35,326.00 115.50,320.90 119.65,318.20 123.80,315.50 127.95,313.70 132.10,313.06 136.25,312.42 140.40,311.78 144.55,311.14 148.70,310.50 152.85,310.25 157.00,309.99 161.15,309.74 165.30,309.48 169.45,309.23 173.60,308.97 177.75,308.72 181.90,308.46 186.05,308.21 190.20,307.95 194.35,307.70" fill="none" stroke="#8ee6da" stroke-width="0.45"/>
<circle cx="74.00" cy="378.60" r="1.38" fill="#2ccab4" stroke="#2ccab4" stroke-width="0.4"/>
<circle cx="78.15" cy="378.60" r="1.38" fill="#2ccab4" stroke="#2ccab4" stroke-width="0.4"/>
<circle cx="82.30" cy="378.60" r="1.38" fill="#2ccab4" stroke="#2ccab4" stroke-width="0.4"/>
<circle cx="86.45" cy="378.60" r="1.38" fill="#2ccab4" stroke="#2ccab4" stroke-width="0.4"/>
<circle cx="90.60" cy="378.60" r="1.38" fill="#2ccab4" stroke="#2ccab4" stroke-width="0.4"/>
<circle cx="94.75" cy="378.60" r="1.38" fill="#2ccab4" stroke="#2ccab4" stroke-width="0.4"/>
<circle cx="98.90" cy="378.60" r="1.38" fill="#2ccab4" stroke="#2ccab4" stroke-width="0.4"/>
<circle cx="103.05" cy="369.00" r="1.38" fill="#2ccab4" stroke="#2ccab4" stroke-width="0.4"/>
<circle cx="107.20" cy="341.80" r="1.38" fill="#2ccab4" stroke="#2ccab4" stroke-width="0.4"/>
<circle cx="111.35" cy="326.00" r="1.38" fill="#2ccab4" stroke="#2ccab4" stroke-width="0.4"/>
<circle cx="115.50" cy="320.90" r="1.38" fill="#2ccab4" stroke="#2ccab4" stroke-width="0.4"/>
<circle cx="119.65" cy="318.20" r="1.38" fill="#2ccab4" stroke="#2ccab4" stroke-width="0.4"/>
<circle cx="123.80" cy="315.50" r="1.38" fill="#2ccab4" stroke="#2ccab4" stroke-width="0.4"/>
<circle cx="127.95" cy="313.70" r="1.38" fill="#2ccab4" stroke="#2ccab4" stroke-width="0.4"/>
<circle cx="132.10" cy="313.06" r="1.38" fill="#2ccab4" stroke="#2ccab4" stroke-width="0.4"/>
<circle cx="136.25" cy="312.42" r="1.38" fill="#2ccab4" stroke="#2ccab4" stroke-width="0.4"/>
<circle cx="140.40" cy="311.78" r="1.38" fill="#2ccab4" stroke="#2ccab4" stroke-width="0.4"/>
<circle cx="144.55" cy="311.14" r="1.38" fill="#2ccab4" stroke="#2ccab4" stroke-width="0.4"/>
<circle cx="148.70" cy="310.50" r="1.38" fill="#2ccab4" stroke="#2ccab4" stroke-width="0.4"/>
<circle cx="152.85" cy="310.25" r="1.38" fill="#2ccab4" stroke="#2ccab4" stroke-width="0.4"/>
<circle cx="157.00" cy="309.99" r="1.38" fill="#2ccab4" stroke="#2ccab4" stroke-width="0.4"/>
<circle cx="161.15" cy="309.74" r="1.38" fill="#2ccab4" stroke="#2ccab4" stroke-width="0.4"/>
<circle cx="165.30" cy="309.48" r="1.38" fill="#2ccab4" stroke="#2ccab4" stroke-width="0.4"/>
<circle cx="169.45" cy="309.23" r="1.38" fill="#2ccab4" stroke="#2ccab4" stroke-width="0.4"/>
<circle cx="173.60" cy="308.97" r="1.38" fill="#2ccab4" stroke="#2ccab4" stroke-width="0.4"/>
<circle cx="177.75" cy="308.72" r="1.38" fill="#2ccab4" stroke="#2ccab4" stroke-width="0.4"/>
<circle cx="181.90" cy="308.46" r="1.38" fill="#2ccab4" stroke="#2ccab4" stroke-width="0.4"/>
<circle cx="186.05" cy="308.21" r="1.38" fill="#2ccab4" stroke="#2ccab4" stroke-width="0.4"/>
<circle cx="190.20" cy="307.95" r="1.38" fill="#2ccab4" stroke="#2ccab4" stroke-width="0.4"/>
<circle cx="194.35" cy="307.70" r="1.38" fill="#2ccab4" stroke="#2ccab4" stroke-width="0.4"/>
<polyline points="74.00,376.60 78.15,376.60 82.30,376.60 86.45,376.60 90.60,376.60 94.75,373.60 98.90,355.00 103.05,325.00 107.20,314.20 111.35,310.00 115.50,307.60 119.65,305.50 123.80,302.70 127.95,301.30 132.10,300.84 136.25,300.38 140.40,299.92 144.55,299.46 148.70,299.00 152.85,298.76 157.00,298.53 161.15,298.29 165.30,298.05 169.45,297.82 173.60,297.58 177.75,297.35 181.90,297.11 186.05,296.87 190.20,296.64 194.35,296.40" fill="none" stroke="#8ccff2" stroke-width="0.45"/>
<circle cx="74.00" cy="376.60" r="1.38" fill="#2b9fe0" stroke="#2b9fe0" stroke-width="0.4"/>
<circle cx="78.15" cy="376.60" r="1.38" fill="#2b9fe0" stroke="#2b9fe0" stroke-width="0.4"/>
<circle cx="82.30" cy="376.60" r="1.38" fill="#2b9fe0" stroke="#2b9fe0" stroke-width="0.4"/>
<circle cx="86.45" cy="376.60" r="1.38" fill="#2b9fe0" stroke="#2b9fe0" stroke-width="0.4"/>
<circle cx="90.60" cy="376.60" r="1.38" fill="#2b9fe0" stroke="#2b9fe0" stroke-width="0.4"/>
<circle cx="94.75" cy="373.60" r="1.38" fill="#2b9fe0" stroke="#2b9fe0" stroke-width="0.4"/>
<circle cx="98.90" cy="355.00" r="1.38" fill="#2b9fe0" stroke="#2b9fe0" stroke-width="0.4"/>
<circle cx="103.05" cy="325.00" r="1.38" fill="#2b9fe0" stroke="#2b9fe0" stroke-width="0.4"/>
<circle cx="107.20" cy="314.20" r="1.38" fill="#2b9fe0" stroke="#2b9fe0" stroke-width="0.4"/>
<circle cx="111.35" cy="310.00" r="1.38" fill="#2b9fe0" stroke="#2b9fe0" stroke-width="0.4"/>
<circle cx="115.50" cy="307.60" r="1.38" fill="#2b9fe0" stroke="#2b9fe0" stroke-width="0.4"/>
<circle cx="119.65" cy="305.50" r="1.38" fill="#2b9fe0" stroke="#2b9fe0" stroke-width="0.4"/>
<circle cx="123.80" cy="302.70" r="1.38" fill="#2b9fe0" stroke="#2b9fe0" stroke-width="0.4"/>
<circle cx="127.95" cy="301.30" r="1.38" fill="#2b9fe0" stroke="#2b9fe0" stroke-width="0.4"/>
<circle cx="132.10" cy="300.84" r="1.38" fill="#2b9fe0" stroke="#2b9fe0" stroke-width="0.4"/>
<circle cx="136.25" cy="300.38" r="1.38" fill="#2b9fe0" stroke="#2b9fe0" stroke-width="0.4"/>
<circle cx="140.40" cy="299.92" r="1.38" fill="#2b9fe0" stroke="#2b9fe0" stroke-width="0.4"/>
<circle cx="144.55" cy="299.46" r="1.38" fill="#2b9fe0" stroke="#2b9fe0" stroke-width="0.4"/>
<circle cx="148.70" cy="299.00" r="1.38" fill="#2b9fe0" stroke="#2b9fe0" stroke-width="0.4"/>
<circle cx="152.85" cy="298.76" r="1.38" fill="#2b9fe0" stroke="#2b9fe0" stroke-width="0.4"/>
<circle cx="157.00" cy="298.53" r="1.38" fill="#2b9fe0" stroke="#2b9fe0" stroke-width="0.4"/>
<circle cx="161.15" cy="298.29" r="1.38" fill="#2b9fe0" stroke="#2b9fe0" stroke-width="0.4"/>
<circle cx="165.30" cy="298.05" r="1.38" fill="#2b9fe0" stroke="#2b9fe0" stroke-width="0.4"/>
<circle cx="169.45" cy="297.82" r="1.38" fill="#2b9fe0" stroke="#2b9fe0" stroke-width="0.4"/>
<circle cx="173.60" cy="297.58" r="1.38" fill="#2b9fe0" stroke="#2b9fe0" stroke-width="0.4"/>
<circle cx="177.75" cy="297.35" r="1.38" fill="#2b9fe0" stroke="#2b9fe0" stroke-width="0.4"/>
<circle cx="181.90" cy="297.11" r="1.38" fill="#2b9fe0" stroke="#2b9fe0" stroke-width="0.4"/>
<circle cx="186.05" cy="296.87" r="1.38" fill="#2b9fe0" stroke="#2b9fe0" stroke-width="0.4"/>
<circle cx="190.20" cy="296.64" r="1.38" fill="#2b9fe0" stroke="#2b9fe0" stroke-width="0.4"/>
<circle cx="194.35" cy="296.40" r="1.38" fill="#2b9fe0" stroke="#2b9fe0" stroke-width="0.4"/>
<polyline points="74.00,381.60 78.15,381.60 82.30,381.60 86.45,371.90 90.60,348.00 94.75,339.50 98.90,335.00 103.05,332.50 107.20,330.50 111.35,329.00 115.50,328.00 119.65,326.93 123.80,325.87 127.95,324.80 132.10,324.64 136.25,324.48 140.40,324.31 144.55,324.15 148.70,323.99 152.85,323.82 157.00,323.66 161.15,323.50 165.30,323.34 169.45,323.18 173.60,323.01 177.75,322.85 181.90,322.69 186.05,322.52 190.20,322.36 194.35,322.20" fill="none" stroke="#7aa8e8" stroke-width="0.45"/>
<circle cx="74.00" cy="381.60" r="1.38" fill="#1c62c8" stroke="#1c62c8" stroke-width="0.4"/>
<circle cx="78.15" cy="381.60" r="1.38" fill="#1c62c8" stroke="#1c62c8" stroke-width="0.4"/>
<circle cx="82.30" cy="381.60" r="1.38" fill="#1c62c8" stroke="#1c62c8" stroke-width="0.4"/>
<circle cx="86.45" cy="371.90" r="1.38" fill="#1c62c8" stroke="#1c62c8" stroke-width="0.4"/>
<circle cx="90.60" cy="348.00" r="1.38" fill="#1c62c8" stroke="#1c62c8" stroke-width="0.4"/>
<circle cx="94.75" cy="339.50" r="1.38" fill="#1c62c8" stroke="#1c62c8" stroke-width="0.4"/>
<circle cx="98.90" cy="335.00" r="1.38" fill="#1c62c8" stroke="#1c62c8" stroke-width="0.4"/>
<circle cx="103.05" cy="332.50" r="1.38" fill="#1c62c8" stroke="#1c62c8" stroke-width="0.4"/>
<circle cx="107.20" cy="330.50" r="1.38" fill="#1c62c8" stroke="#1c62c8" stroke-width="0.4"/>
<circle cx="111.35" cy="329.00" r="1.38" fill="#1c62c8" stroke="#1c62c8" stroke-width="0.4"/>
<circle cx="115.50" cy="328.00" r="1.38" fill="#1c62c8" stroke="#1c62c8" stroke-width="0.4"/>
<circle cx="119.65" cy="326.93" r="1.38" fill="#1c62c8" stroke="#1c62c8" stroke-width="0.4"/>
<circle cx="123.80" cy="325.87" r="1.38" fill="#1c62c8" stroke="#1c62c8" stroke-width="0.4"/>
<circle cx="127.95" cy="324.80" r="1.38" fill="#1c62c8" stroke="#1c62c8" stroke-width="0.4"/>
<circle cx="132.10" cy="324.64" r="1.38" fill="#1c62c8" stroke="#1c62c8" stroke-width="0.4"/>
<circle cx="136.25" cy="324.48" r="1.38" fill="#1c62c8" stroke="#1c62c8" stroke-width="0.4"/>
<circle cx="140.40" cy="324.31" r="1.38" fill="#1c62c8" stroke="#1c62c8" stroke-width="0.4"/>
<circle cx="144.55" cy="324.15" r="1.38" fill="#1c62c8" stroke="#1c62c8" stroke-width="0.4"/>
<circle cx="148.70" cy="323.99" r="1.38" fill="#1c62c8" stroke="#1c62c8" stroke-width="0.4"/>
<circle cx="152.85" cy="323.82" r="1.38" fill="#1c62c8" stroke="#1c62c8" stroke-width="0.4"/>
<circle cx="157.00" cy="323.66" r="1.38" fill="#1c62c8" stroke="#1c62c8" stroke-width="0.4"/>
<circle cx="161.15" cy="323.50" r="1.38" fill="#1c62c8" stroke="#1c62c8" stroke-width="0.4"/>
<circle cx="165.30" cy="323.34" r="1.38" fill="#1c62c8" stroke="#1c62c8" stroke-width="0.4"/>
<circle cx="169.45" cy="323.18" r="1.38" fill="#1c62c8" stroke="#1c62c8" stroke-width="0.4"/>
<circle cx="173.60" cy="323.01" r="1.38" fill="#1c62c8" stroke="#1c62c8" stroke-width="0.4"/>
<circle cx="177.75" cy="322.85" r="1.38" fill="#1c62c8" stroke="#1c62c8" stroke-width="0.4"/>
<circle cx="181.90" cy="322.69" r="1.38" fill="#1c62c8" stroke="#1c62c8" stroke-width="0.4"/>
<circle cx="186.05" cy="322.52" r="1.38" fill="#1c62c8" stroke="#1c62c8" stroke-width="0.4"/>
<circle cx="190.20" cy="322.36" r="1.38" fill="#1c62c8" stroke="#1c62c8" stroke-width="0.4"/>
<circle cx="194.35" cy="322.20" r="1.38" fill="#1c62c8" stroke="#1c62c8" stroke-width="0.4"/>
<polyline points="74.00,384.00 78.15,383.60 82.30,381.00 86.45,366.00 90.60,346.40 94.75,338.70 98.90,334.50 103.05,332.20 107.20,330.40 111.35,329.50 115.50,328.80 119.65,328.30 123.80,327.80 127.95,327.30 132.10,327.13 136.25,326.96 140.40,326.79 144.55,326.62 148.70,326.46 152.85,326.29 157.00,326.12 161.15,325.95 165.30,325.78 169.45,325.61 173.60,325.44 177.75,325.28 181.90,325.11 186.05,324.94 190.20,324.77 194.35,324.60" fill="none" stroke="#6c8ad0" stroke-width="0.45"/>
<circle cx="74.00" cy="384.00" r="1.38" fill="#0b2360" stroke="#0b2360" stroke-width="0.4"/>
<circle cx="78.15" cy="383.60" r="1.38" fill="#0b2360" stroke="#0b2360" stroke-width="0.4"/>
<circle cx="82.30" cy="381.00" r="1.38" fill="#0b2360" stroke="#0b2360" stroke-width="0.4"/>
<circle cx="86.45" cy="366.00" r="1.38" fill="#0b2360" stroke="#0b2360" stroke-width="0.4"/>
<circle cx="90.60" cy="346.40" r="1.38" fill="#0b2360" stroke="#0b2360" stroke-width="0.4"/>
<circle cx="94.75" cy="338.70" r="1.38" fill="#0b2360" stroke="#0b2360" stroke-width="0.4"/>
<circle cx="98.90" cy="334.50" r="1.38" fill="#0b2360" stroke="#0b2360" stroke-width="0.4"/>
<circle cx="103.05" cy="332.20" r="1.38" fill="#0b2360" stroke="#0b2360" stroke-width="0.4"/>
<circle cx="107.20" cy="330.40" r="1.38" fill="#0b2360" stroke="#0b2360" stroke-width="0.4"/>
<circle cx="111.35" cy="329.50" r="1.38" fill="#0b2360" stroke="#0b2360" stroke-width="0.4"/>
<circle cx="115.50" cy="328.80" r="1.38" fill="#0b2360" stroke="#0b2360" stroke-width="0.4"/>
<circle cx="119.65" cy="328.30" r="1.38" fill="#0b2360" stroke="#0b2360" stroke-width="0.4"/>
<circle cx="123.80" cy="327.80" r="1.38" fill="#0b2360" stroke="#0b2360" stroke-width="0.4"/>
<circle cx="127.95" cy="327.30" r="1.38" fill="#0b2360" stroke="#0b2360" stroke-width="0.4"/>
<circle cx="132.10" cy="327.13" r="1.38" fill="#0b2360" stroke="#0b2360" stroke-width="0.4"/>
<circle cx="136.25" cy="326.96" r="1.38" fill="#0b2360" stroke="#0b2360" stroke-width="0.4"/>
<circle cx="140.40" cy="326.79" r="1.38" fill="#0b2360" stroke="#0b2360" stroke-width="0.4"/>
<circle cx="144.55" cy="326.62" r="1.38" fill="#0b2360" stroke="#0b2360" stroke-width="0.4"/>
<circle cx="148.70" cy="326.46" r="1.38" fill="#0b2360" stroke="#0b2360" stroke-width="0.4"/>
<circle cx="152.85" cy="326.29" r="1.38" fill="#0b2360" stroke="#0b2360" stroke-width="0.4"/>
<circle cx="157.00" cy="326.12" r="1.38" fill="#0b2360" stroke="#0b2360" stroke-width="0.4"/>
<circle cx="161.15" cy="325.95" r="1.38" fill="#0b2360" stroke="#0b2360" stroke-width="0.4"/>
<circle cx="165.30" cy="325.78" r="1.38" fill="#0b2360" stroke="#0b2360" stroke-width="0.4"/>
<circle cx="169.45" cy="325.61" r="1.38" fill="#0b2360" stroke="#0b2360" stroke-width="0.4"/>
<circle cx="173.60" cy="325.44" r="1.38" fill="#0b2360" stroke="#0b2360" stroke-width="0.4"/>
<circle cx="177.75" cy="325.28" r="1.38" fill="#0b2360" stroke="#0b2360" stroke-width="0.4"/>
<circle cx="181.90" cy="325.11" r="1.38" fill="#0b2360" stroke="#0b2360" stroke-width="0.4"/>
<circle cx="186.05" cy="324.94" r="1.38" fill="#0b2360" stroke="#0b2360" stroke-width="0.4"/>
<circle cx="190.20" cy="324.77" r="1.38" fill="#0b2360" stroke="#0b2360" stroke-width="0.4"/>
<circle cx="194.35" cy="324.60" r="1.38" fill="#0b2360" stroke="#0b2360" stroke-width="0.4"/>
<line x1="208.60000000000002" y1="288.0" x2="217.0" y2="288.0" stroke="#6c8ad0" stroke-width="0.45"/>
<circle cx="212.8" cy="288.0" r="1.3" fill="#0b2360" stroke="#0b2360" stroke-width="0.4"/>
<text x="222.30" y="289.60" font-size="4.6" fill="#222" stroke="#222" stroke-width="0.18">1 nM</text>
<line x1="208.60000000000002" y1="295.1" x2="217.0" y2="295.1" stroke="#7aa8e8" stroke-width="0.45"/>
<circle cx="212.8" cy="295.1" r="1.3" fill="#1c62c8" stroke="#1c62c8" stroke-width="0.4"/>
<text x="222.30" y="296.70" font-size="4.6" fill="#222" stroke="#222" stroke-width="0.18">500 pM</text>
<line x1="208.60000000000002" y1="302.2" x2="217.0" y2="302.2" stroke="#8ccff2" stroke-width="0.45"/>
<circle cx="212.8" cy="302.2" r="1.3" fill="#2b9fe0" stroke="#2b9fe0" stroke-width="0.4"/>
<text x="222.30" y="303.80" font-size="4.6" fill="#222" stroke="#222" stroke-width="0.18">500 fM</text>
<line x1="208.60000000000002" y1="309.3" x2="217.0" y2="309.3" stroke="#8ee6da" stroke-width="0.45"/>
<circle cx="212.8" cy="309.3" r="1.3" fill="#2ccab4" stroke="#2ccab4" stroke-width="0.4"/>
<text x="222.30" y="310.90" font-size="4.6" fill="#222" stroke="#222" stroke-width="0.18">500 aM</text>
<line x1="208.60000000000002" y1="316.4" x2="217.0" y2="316.4" stroke="#8ee8e8" stroke-width="0.45"/>
<circle cx="212.8" cy="316.4" r="1.3" fill="#d4f3f1" stroke="#62cccc" stroke-width="0.4"/>
<text x="222.30" y="318.00" font-size="4.6" fill="#222" stroke="#222" stroke-width="0.18">100 aM</text>
<line x1="208.60000000000002" y1="323.5" x2="217.0" y2="323.5" stroke="#bbbbbb" stroke-width="0.45"/>
<circle cx="212.8" cy="323.5" r="1.3" fill="#ffffff" stroke="#999999" stroke-width="0.4"/>
<text x="222.30" y="325.10" font-size="4.6" fill="#222" stroke="#222" stroke-width="0.18">50 aM</text>
<line x1="208.60000000000002" y1="330.6" x2="217.0" y2="330.6" stroke="#999999" stroke-width="0.45"/>
<circle cx="212.8" cy="330.6" r="1.3" fill="#7a7a7a" stroke="#4e4e4e" stroke-width="0.4"/>
<text x="222.30" y="332.20" font-size="4.6" fill="#222" stroke="#222" stroke-width="0.18">NTC</text>
<path d="M294.3,284.2 L294.3,384.1 L417.3,384.1" fill="none" stroke="#7c7c7c" stroke-width="0.95"/>
<line x1="291.6" y1="284.2" x2="294.3" y2="284.2" stroke="#7c7c7c" stroke-width="0.7"/>
<text x="289.70" y="286.00" font-size="5.0" fill="#333" text-anchor="end" textLength="16" lengthAdjust="spacingAndGlyphs" stroke="#333" stroke-width="0.06">1.5•10<tspan font-size="3.3" dy="-2">5</tspan></text>
<line x1="291.6" y1="323.3" x2="294.3" y2="323.3" stroke="#7c7c7c" stroke-width="0.7"/>
<text x="289.70" y="325.10" font-size="5.0" fill="#333" text-anchor="end" textLength="16" lengthAdjust="spacingAndGlyphs" stroke="#333" stroke-width="0.06">1.0•10<tspan font-size="3.3" dy="-2">5</tspan></text>
<line x1="291.6" y1="362.3" x2="294.3" y2="362.3" stroke="#7c7c7c" stroke-width="0.7"/>
<text x="289.70" y="364.10" font-size="5.0" fill="#333" text-anchor="end" textLength="16" lengthAdjust="spacingAndGlyphs" stroke="#333" stroke-width="0.06">5.0•10<tspan font-size="3.3" dy="-2">4</tspan></text>
<line x1="335.3" y1="384.1" x2="335.3" y2="386.40000000000003" stroke="#7c7c7c" stroke-width="0.7"/>
<text x="335.30" y="391.70" font-size="4.6" fill="#333" text-anchor="middle" stroke="#333" stroke-width="0.1">20</text>
<line x1="376.3" y1="384.1" x2="376.3" y2="386.40000000000003" stroke="#7c7c7c" stroke-width="0.7"/>
<text x="376.30" y="391.70" font-size="4.6" fill="#333" text-anchor="middle" stroke="#333" stroke-width="0.1">40</text>
<line x1="416.9" y1="384.1" x2="416.9" y2="386.40000000000003" stroke="#7c7c7c" stroke-width="0.7"/>
<text x="416.90" y="391.70" font-size="4.6" fill="#333" text-anchor="middle" stroke="#333" stroke-width="0.1">60</text>
<text x="361.00" y="396.80" font-size="5.6" fill="#222" text-anchor="middle" textLength="24.2" lengthAdjust="spacingAndGlyphs" stroke="#222" stroke-width="0.18">time (min)</text>
<text x="360.50" y="279.00" font-size="6.9" fill="#222" text-anchor="middle" textLength="26.2" lengthAdjust="spacingAndGlyphs" stroke="#222" stroke-width="0.15">ToLCNDV</text>
<polyline points="298.80,377.80 302.87,377.79 306.94,377.78 311.01,377.77 315.08,377.76 319.15,377.75 323.22,377.74 327.29,377.73 331.36,377.72 335.43,377.71 339.50,377.70 343.57,377.69 347.64,377.68 351.71,377.67 355.78,377.66 359.85,377.64 363.92,377.63 367.99,377.62 372.06,377.61 376.13,377.60 380.20,377.59 384.27,377.58 388.34,377.57 392.41,377.56 396.48,377.55 400.55,377.54 404.62,377.53 408.69,377.52 412.76,377.51 416.83,377.50" fill="none" stroke="#bbbbbb" stroke-width="0.45"/>
<circle cx="298.80" cy="377.80" r="1.38" fill="#ffffff" stroke="#999999" stroke-width="0.4"/>
<circle cx="302.87" cy="377.79" r="1.38" fill="#ffffff" stroke="#999999" stroke-width="0.4"/>
<circle cx="306.94" cy="377.78" r="1.38" fill="#ffffff" stroke="#999999" stroke-width="0.4"/>
<circle cx="311.01" cy="377.77" r="1.38" fill="#ffffff" stroke="#999999" stroke-width="0.4"/>
<circle cx="315.08" cy="377.76" r="1.38" fill="#ffffff" stroke="#999999" stroke-width="0.4"/>
<circle cx="319.15" cy="377.75" r="1.38" fill="#ffffff" stroke="#999999" stroke-width="0.4"/>
<circle cx="323.22" cy="377.74" r="1.38" fill="#ffffff" stroke="#999999" stroke-width="0.4"/>
<circle cx="327.29" cy="377.73" r="1.38" fill="#ffffff" stroke="#999999" stroke-width="0.4"/>
<circle cx="331.36" cy="377.72" r="1.38" fill="#ffffff" stroke="#999999" stroke-width="0.4"/>
<circle cx="335.43" cy="377.71" r="1.38" fill="#ffffff" stroke="#999999" stroke-width="0.4"/>
<circle cx="339.50" cy="377.70" r="1.38" fill="#ffffff" stroke="#999999" stroke-width="0.4"/>
<circle cx="343.57" cy="377.69" r="1.38" fill="#ffffff" stroke="#999999" stroke-width="0.4"/>
<circle cx="347.64" cy="377.68" r="1.38" fill="#ffffff" stroke="#999999" stroke-width="0.4"/>
<circle cx="351.71" cy="377.67" r="1.38" fill="#ffffff" stroke="#999999" stroke-width="0.4"/>
<circle cx="355.78" cy="377.66" r="1.38" fill="#ffffff" stroke="#999999" stroke-width="0.4"/>
<circle cx="359.85" cy="377.64" r="1.38" fill="#ffffff" stroke="#999999" stroke-width="0.4"/>
<circle cx="363.92" cy="377.63" r="1.38" fill="#ffffff" stroke="#999999" stroke-width="0.4"/>
<circle cx="367.99" cy="377.62" r="1.38" fill="#ffffff" stroke="#999999" stroke-width="0.4"/>
<circle cx="372.06" cy="377.61" r="1.38" fill="#ffffff" stroke="#999999" stroke-width="0.4"/>
<circle cx="376.13" cy="377.60" r="1.38" fill="#ffffff" stroke="#999999" stroke-width="0.4"/>
<circle cx="380.20" cy="377.59" r="1.38" fill="#ffffff" stroke="#999999" stroke-width="0.4"/>
<circle cx="384.27" cy="377.58" r="1.38" fill="#ffffff" stroke="#999999" stroke-width="0.4"/>
<circle cx="388.34" cy="377.57" r="1.38" fill="#ffffff" stroke="#999999" stroke-width="0.4"/>
<circle cx="392.41" cy="377.56" r="1.38" fill="#ffffff" stroke="#999999" stroke-width="0.4"/>
<circle cx="396.48" cy="377.55" r="1.38" fill="#ffffff" stroke="#999999" stroke-width="0.4"/>
<circle cx="400.55" cy="377.54" r="1.38" fill="#ffffff" stroke="#999999" stroke-width="0.4"/>
<circle cx="404.62" cy="377.53" r="1.38" fill="#ffffff" stroke="#999999" stroke-width="0.4"/>
<circle cx="408.69" cy="377.52" r="1.38" fill="#ffffff" stroke="#999999" stroke-width="0.4"/>
<circle cx="412.76" cy="377.51" r="1.38" fill="#ffffff" stroke="#999999" stroke-width="0.4"/>
<circle cx="416.83" cy="377.50" r="1.38" fill="#ffffff" stroke="#999999" stroke-width="0.4"/>
<polyline points="298.80,377.50 302.87,377.48 306.94,377.45 311.01,377.43 315.08,377.40 319.15,377.38 323.22,377.36 327.29,377.33 331.36,377.31 335.43,377.28 339.50,377.26 343.57,377.23 347.64,377.21 351.71,377.19 355.78,377.16 359.85,377.14 363.92,377.11 367.99,377.09 372.06,377.07 376.13,377.04 380.20,377.02 384.27,376.99 388.34,376.97 392.41,376.94 396.48,376.92 400.55,376.90 404.62,376.87 408.69,376.85 412.76,376.82 416.83,376.80" fill="none" stroke="#999999" stroke-width="0.45"/>
<circle cx="298.80" cy="377.50" r="1.38" fill="#7a7a7a" stroke="#4e4e4e" stroke-width="0.4"/>
<circle cx="302.87" cy="377.48" r="1.38" fill="#7a7a7a" stroke="#4e4e4e" stroke-width="0.4"/>
<circle cx="306.94" cy="377.45" r="1.38" fill="#7a7a7a" stroke="#4e4e4e" stroke-width="0.4"/>
<circle cx="311.01" cy="377.43" r="1.38" fill="#7a7a7a" stroke="#4e4e4e" stroke-width="0.4"/>
<circle cx="315.08" cy="377.40" r="1.38" fill="#7a7a7a" stroke="#4e4e4e" stroke-width="0.4"/>
<circle cx="319.15" cy="377.38" r="1.38" fill="#7a7a7a" stroke="#4e4e4e" stroke-width="0.4"/>
<circle cx="323.22" cy="377.36" r="1.38" fill="#7a7a7a" stroke="#4e4e4e" stroke-width="0.4"/>
<circle cx="327.29" cy="377.33" r="1.38" fill="#7a7a7a" stroke="#4e4e4e" stroke-width="0.4"/>
<circle cx="331.36" cy="377.31" r="1.38" fill="#7a7a7a" stroke="#4e4e4e" stroke-width="0.4"/>
<circle cx="335.43" cy="377.28" r="1.38" fill="#7a7a7a" stroke="#4e4e4e" stroke-width="0.4"/>
<circle cx="339.50" cy="377.26" r="1.38" fill="#7a7a7a" stroke="#4e4e4e" stroke-width="0.4"/>
<circle cx="343.57" cy="377.23" r="1.38" fill="#7a7a7a" stroke="#4e4e4e" stroke-width="0.4"/>
<circle cx="347.64" cy="377.21" r="1.38" fill="#7a7a7a" stroke="#4e4e4e" stroke-width="0.4"/>
<circle cx="351.71" cy="377.19" r="1.38" fill="#7a7a7a" stroke="#4e4e4e" stroke-width="0.4"/>
<circle cx="355.78" cy="377.16" r="1.38" fill="#7a7a7a" stroke="#4e4e4e" stroke-width="0.4"/>
<circle cx="359.85" cy="377.14" r="1.38" fill="#7a7a7a" stroke="#4e4e4e" stroke-width="0.4"/>
<circle cx="363.92" cy="377.11" r="1.38" fill="#7a7a7a" stroke="#4e4e4e" stroke-width="0.4"/>
<circle cx="367.99" cy="377.09" r="1.38" fill="#7a7a7a" stroke="#4e4e4e" stroke-width="0.4"/>
<circle cx="372.06" cy="377.07" r="1.38" fill="#7a7a7a" stroke="#4e4e4e" stroke-width="0.4"/>
<circle cx="376.13" cy="377.04" r="1.38" fill="#7a7a7a" stroke="#4e4e4e" stroke-width="0.4"/>
<circle cx="380.20" cy="377.02" r="1.38" fill="#7a7a7a" stroke="#4e4e4e" stroke-width="0.4"/>
<circle cx="384.27" cy="376.99" r="1.38" fill="#7a7a7a" stroke="#4e4e4e" stroke-width="0.4"/>
<circle cx="388.34" cy="376.97" r="1.38" fill="#7a7a7a" stroke="#4e4e4e" stroke-width="0.4"/>
<circle cx="392.41" cy="376.94" r="1.38" fill="#7a7a7a" stroke="#4e4e4e" stroke-width="0.4"/>
<circle cx="396.48" cy="376.92" r="1.38" fill="#7a7a7a" stroke="#4e4e4e" stroke-width="0.4"/>
<circle cx="400.55" cy="376.90" r="1.38" fill="#7a7a7a" stroke="#4e4e4e" stroke-width="0.4"/>
<circle cx="404.62" cy="376.87" r="1.38" fill="#7a7a7a" stroke="#4e4e4e" stroke-width="0.4"/>
<circle cx="408.69" cy="376.85" r="1.38" fill="#7a7a7a" stroke="#4e4e4e" stroke-width="0.4"/>
<circle cx="412.76" cy="376.82" r="1.38" fill="#7a7a7a" stroke="#4e4e4e" stroke-width="0.4"/>
<circle cx="416.83" cy="376.80" r="1.38" fill="#7a7a7a" stroke="#4e4e4e" stroke-width="0.4"/>
<polyline points="298.80,378.00 302.87,378.00 306.94,378.00 311.01,378.00 315.08,378.00 319.15,378.00 323.22,378.00 327.29,378.00 331.36,378.00 335.43,375.80 339.50,369.20 343.57,362.20 347.64,354.90 351.71,350.30 355.78,346.60 359.85,345.20 363.92,344.20 367.99,343.30 372.06,342.80 376.13,342.65 380.20,342.51 384.27,342.36 388.34,342.22 392.41,342.07 396.48,341.93 400.55,341.78 404.62,341.64 408.69,341.49 412.76,341.35 416.83,341.20" fill="none" stroke="#c8e0d0" stroke-width="0.45"/>
<circle cx="298.80" cy="378.00" r="1.38" fill="#b5d2bf" stroke="#88aa96" stroke-width="0.4"/>
<circle cx="302.87" cy="378.00" r="1.38" fill="#b5d2bf" stroke="#88aa96" stroke-width="0.4"/>
<circle cx="306.94" cy="378.00" r="1.38" fill="#b5d2bf" stroke="#88aa96" stroke-width="0.4"/>
<circle cx="311.01" cy="378.00" r="1.38" fill="#b5d2bf" stroke="#88aa96" stroke-width="0.4"/>
<circle cx="315.08" cy="378.00" r="1.38" fill="#b5d2bf" stroke="#88aa96" stroke-width="0.4"/>
<circle cx="319.15" cy="378.00" r="1.38" fill="#b5d2bf" stroke="#88aa96" stroke-width="0.4"/>
<circle cx="323.22" cy="378.00" r="1.38" fill="#b5d2bf" stroke="#88aa96" stroke-width="0.4"/>
<circle cx="327.29" cy="378.00" r="1.38" fill="#b5d2bf" stroke="#88aa96" stroke-width="0.4"/>
<circle cx="331.36" cy="378.00" r="1.38" fill="#b5d2bf" stroke="#88aa96" stroke-width="0.4"/>
<circle cx="335.43" cy="375.80" r="1.38" fill="#b5d2bf" stroke="#88aa96" stroke-width="0.4"/>
<circle cx="339.50" cy="369.20" r="1.38" fill="#b5d2bf" stroke="#88aa96" stroke-width="0.4"/>
<circle cx="343.57" cy="362.20" r="1.38" fill="#b5d2bf" stroke="#88aa96" stroke-width="0.4"/>
<circle cx="347.64" cy="354.90" r="1.38" fill="#b5d2bf" stroke="#88aa96" stroke-width="0.4"/>
<circle cx="351.71" cy="350.30" r="1.38" fill="#b5d2bf" stroke="#88aa96" stroke-width="0.4"/>
<circle cx="355.78" cy="346.60" r="1.38" fill="#b5d2bf" stroke="#88aa96" stroke-width="0.4"/>
<circle cx="359.85" cy="345.20" r="1.38" fill="#b5d2bf" stroke="#88aa96" stroke-width="0.4"/>
<circle cx="363.92" cy="344.20" r="1.38" fill="#b5d2bf" stroke="#88aa96" stroke-width="0.4"/>
<circle cx="367.99" cy="343.30" r="1.38" fill="#b5d2bf" stroke="#88aa96" stroke-width="0.4"/>
<circle cx="372.06" cy="342.80" r="1.38" fill="#b5d2bf" stroke="#88aa96" stroke-width="0.4"/>
<circle cx="376.13" cy="342.65" r="1.38" fill="#b5d2bf" stroke="#88aa96" stroke-width="0.4"/>
<circle cx="380.20" cy="342.51" r="1.38" fill="#b5d2bf" stroke="#88aa96" stroke-width="0.4"/>
<circle cx="384.27" cy="342.36" r="1.38" fill="#b5d2bf" stroke="#88aa96" stroke-width="0.4"/>
<circle cx="388.34" cy="342.22" r="1.38" fill="#b5d2bf" stroke="#88aa96" stroke-width="0.4"/>
<circle cx="392.41" cy="342.07" r="1.38" fill="#b5d2bf" stroke="#88aa96" stroke-width="0.4"/>
<circle cx="396.48" cy="341.93" r="1.38" fill="#b5d2bf" stroke="#88aa96" stroke-width="0.4"/>
<circle cx="400.55" cy="341.78" r="1.38" fill="#b5d2bf" stroke="#88aa96" stroke-width="0.4"/>
<circle cx="404.62" cy="341.64" r="1.38" fill="#b5d2bf" stroke="#88aa96" stroke-width="0.4"/>
<circle cx="408.69" cy="341.49" r="1.38" fill="#b5d2bf" stroke="#88aa96" stroke-width="0.4"/>
<circle cx="412.76" cy="341.35" r="1.38" fill="#b5d2bf" stroke="#88aa96" stroke-width="0.4"/>
<circle cx="416.83" cy="341.20" r="1.38" fill="#b5d2bf" stroke="#88aa96" stroke-width="0.4"/>
<polyline points="298.80,374.10 302.87,372.20 306.94,371.00 311.01,370.10 315.08,369.40 319.15,368.80 323.22,368.73 327.29,368.67 331.36,368.60 335.43,369.00 339.50,368.50 343.57,367.40 347.64,366.30 351.71,361.20 355.78,349.10 359.85,330.60 363.92,315.40 367.99,307.40 372.06,304.20 376.13,303.32 380.20,302.44 384.27,301.55 388.34,300.67 392.41,299.79 396.48,298.91 400.55,298.03 404.62,297.15 408.69,296.26 412.76,295.38 416.83,294.50" fill="none" stroke="#dcee9a" stroke-width="0.45"/>
<circle cx="298.80" cy="374.10" r="1.38" fill="#a9cc33" stroke="#a9cc33" stroke-width="0.4"/>
<circle cx="302.87" cy="372.20" r="1.38" fill="#a9cc33" stroke="#a9cc33" stroke-width="0.4"/>
<circle cx="306.94" cy="371.00" r="1.38" fill="#a9cc33" stroke="#a9cc33" stroke-width="0.4"/>
<circle cx="311.01" cy="370.10" r="1.38" fill="#a9cc33" stroke="#a9cc33" stroke-width="0.4"/>
<circle cx="315.08" cy="369.40" r="1.38" fill="#a9cc33" stroke="#a9cc33" stroke-width="0.4"/>
<circle cx="319.15" cy="368.80" r="1.38" fill="#a9cc33" stroke="#a9cc33" stroke-width="0.4"/>
<circle cx="323.22" cy="368.73" r="1.38" fill="#a9cc33" stroke="#a9cc33" stroke-width="0.4"/>
<circle cx="327.29" cy="368.67" r="1.38" fill="#a9cc33" stroke="#a9cc33" stroke-width="0.4"/>
<circle cx="331.36" cy="368.60" r="1.38" fill="#a9cc33" stroke="#a9cc33" stroke-width="0.4"/>
<circle cx="335.43" cy="369.00" r="1.38" fill="#a9cc33" stroke="#a9cc33" stroke-width="0.4"/>
<circle cx="339.50" cy="368.50" r="1.38" fill="#a9cc33" stroke="#a9cc33" stroke-width="0.4"/>
<circle cx="343.57" cy="367.40" r="1.38" fill="#a9cc33" stroke="#a9cc33" stroke-width="0.4"/>
<circle cx="347.64" cy="366.30" r="1.38" fill="#a9cc33" stroke="#a9cc33" stroke-width="0.4"/>
<circle cx="351.71" cy="361.20" r="1.38" fill="#a9cc33" stroke="#a9cc33" stroke-width="0.4"/>
<circle cx="355.78" cy="349.10" r="1.38" fill="#a9cc33" stroke="#a9cc33" stroke-width="0.4"/>
<circle cx="359.85" cy="330.60" r="1.38" fill="#a9cc33" stroke="#a9cc33" stroke-width="0.4"/>
<circle cx="363.92" cy="315.40" r="1.38" fill="#a9cc33" stroke="#a9cc33" stroke-width="0.4"/>
<circle cx="367.99" cy="307.40" r="1.38" fill="#a9cc33" stroke="#a9cc33" stroke-width="0.4"/>
<circle cx="372.06" cy="304.20" r="1.38" fill="#a9cc33" stroke="#a9cc33" stroke-width="0.4"/>
<circle cx="376.13" cy="303.32" r="1.38" fill="#a9cc33" stroke="#a9cc33" stroke-width="0.4"/>
<circle cx="380.20" cy="302.44" r="1.38" fill="#a9cc33" stroke="#a9cc33" stroke-width="0.4"/>
<circle cx="384.27" cy="301.55" r="1.38" fill="#a9cc33" stroke="#a9cc33" stroke-width="0.4"/>
<circle cx="388.34" cy="300.67" r="1.38" fill="#a9cc33" stroke="#a9cc33" stroke-width="0.4"/>
<circle cx="392.41" cy="299.79" r="1.38" fill="#a9cc33" stroke="#a9cc33" stroke-width="0.4"/>
<circle cx="396.48" cy="298.91" r="1.38" fill="#a9cc33" stroke="#a9cc33" stroke-width="0.4"/>
<circle cx="400.55" cy="298.03" r="1.38" fill="#a9cc33" stroke="#a9cc33" stroke-width="0.4"/>
<circle cx="404.62" cy="297.15" r="1.38" fill="#a9cc33" stroke="#a9cc33" stroke-width="0.4"/>
<circle cx="408.69" cy="296.26" r="1.38" fill="#a9cc33" stroke="#a9cc33" stroke-width="0.4"/>
<circle cx="412.76" cy="295.38" r="1.38" fill="#a9cc33" stroke="#a9cc33" stroke-width="0.4"/>
<circle cx="416.83" cy="294.50" r="1.38" fill="#a9cc33" stroke="#a9cc33" stroke-width="0.4"/>
<polyline points="298.80,376.00 302.87,374.00 306.94,372.50 311.01,372.35 315.08,372.20 319.15,371.60 323.22,372.20 327.29,371.60 331.36,371.00 335.43,370.30 339.50,367.00 343.57,357.80 347.64,343.00 351.71,329.20 355.78,323.40 359.85,319.70 363.92,318.00 367.99,316.80 372.06,316.40 376.13,315.80 380.20,315.20 384.27,314.60 388.34,314.00 392.41,313.40 396.48,312.80 400.55,312.20 404.62,311.60 408.69,311.00 412.76,310.40 416.83,309.80" fill="none" stroke="#8ef0e0" stroke-width="0.45"/>
<circle cx="298.80" cy="376.00" r="1.38" fill="#22cbb0" stroke="#22cbb0" stroke-width="0.4"/>
<circle cx="302.87" cy="374.00" r="1.38" fill="#22cbb0" stroke="#22cbb0" stroke-width="0.4"/>
<circle cx="306.94" cy="372.50" r="1.38" fill="#22cbb0" stroke="#22cbb0" stroke-width="0.4"/>
<circle cx="311.01" cy="372.35" r="1.38" fill="#22cbb0" stroke="#22cbb0" stroke-width="0.4"/>
<circle cx="315.08" cy="372.20" r="1.38" fill="#22cbb0" stroke="#22cbb0" stroke-width="0.4"/>
<circle cx="319.15" cy="371.60" r="1.38" fill="#22cbb0" stroke="#22cbb0" stroke-width="0.4"/>
<circle cx="323.22" cy="372.20" r="1.38" fill="#22cbb0" stroke="#22cbb0" stroke-width="0.4"/>
<circle cx="327.29" cy="371.60" r="1.38" fill="#22cbb0" stroke="#22cbb0" stroke-width="0.4"/>
<circle cx="331.36" cy="371.00" r="1.38" fill="#22cbb0" stroke="#22cbb0" stroke-width="0.4"/>
<circle cx="335.43" cy="370.30" r="1.38" fill="#22cbb0" stroke="#22cbb0" stroke-width="0.4"/>
<circle cx="339.50" cy="367.00" r="1.38" fill="#22cbb0" stroke="#22cbb0" stroke-width="0.4"/>
<circle cx="343.57" cy="357.80" r="1.38" fill="#22cbb0" stroke="#22cbb0" stroke-width="0.4"/>
<circle cx="347.64" cy="343.00" r="1.38" fill="#22cbb0" stroke="#22cbb0" stroke-width="0.4"/>
<circle cx="351.71" cy="329.20" r="1.38" fill="#22cbb0" stroke="#22cbb0" stroke-width="0.4"/>
<circle cx="355.78" cy="323.40" r="1.38" fill="#22cbb0" stroke="#22cbb0" stroke-width="0.4"/>
<circle cx="359.85" cy="319.70" r="1.38" fill="#22cbb0" stroke="#22cbb0" stroke-width="0.4"/>
<circle cx="363.92" cy="318.00" r="1.38" fill="#22cbb0" stroke="#22cbb0" stroke-width="0.4"/>
<circle cx="367.99" cy="316.80" r="1.38" fill="#22cbb0" stroke="#22cbb0" stroke-width="0.4"/>
<circle cx="372.06" cy="316.40" r="1.38" fill="#22cbb0" stroke="#22cbb0" stroke-width="0.4"/>
<circle cx="376.13" cy="315.80" r="1.38" fill="#22cbb0" stroke="#22cbb0" stroke-width="0.4"/>
<circle cx="380.20" cy="315.20" r="1.38" fill="#22cbb0" stroke="#22cbb0" stroke-width="0.4"/>
<circle cx="384.27" cy="314.60" r="1.38" fill="#22cbb0" stroke="#22cbb0" stroke-width="0.4"/>
<circle cx="388.34" cy="314.00" r="1.38" fill="#22cbb0" stroke="#22cbb0" stroke-width="0.4"/>
<circle cx="392.41" cy="313.40" r="1.38" fill="#22cbb0" stroke="#22cbb0" stroke-width="0.4"/>
<circle cx="396.48" cy="312.80" r="1.38" fill="#22cbb0" stroke="#22cbb0" stroke-width="0.4"/>
<circle cx="400.55" cy="312.20" r="1.38" fill="#22cbb0" stroke="#22cbb0" stroke-width="0.4"/>
<circle cx="404.62" cy="311.60" r="1.38" fill="#22cbb0" stroke="#22cbb0" stroke-width="0.4"/>
<circle cx="408.69" cy="311.00" r="1.38" fill="#22cbb0" stroke="#22cbb0" stroke-width="0.4"/>
<circle cx="412.76" cy="310.40" r="1.38" fill="#22cbb0" stroke="#22cbb0" stroke-width="0.4"/>
<circle cx="416.83" cy="309.80" r="1.38" fill="#22cbb0" stroke="#22cbb0" stroke-width="0.4"/>
<polyline points="298.80,377.00 302.87,375.50 306.94,374.50 311.01,373.50 315.08,372.50 319.15,368.40 323.22,356.30 327.29,344.00 331.36,335.90 335.43,332.50 339.50,330.60 343.57,329.90 347.64,328.70 351.71,328.20 355.78,327.30 359.85,326.93 363.92,326.55 367.99,326.18 372.06,325.80 376.13,325.51 380.20,325.22 384.27,324.93 388.34,324.64 392.41,324.35 396.48,324.05 400.55,323.76 404.62,323.47 408.69,323.18 412.76,322.89 416.83,322.60" fill="none" stroke="#8ee6b0" stroke-width="0.45"/>
<circle cx="298.80" cy="377.00" r="1.38" fill="#20c068" stroke="#20c068" stroke-width="0.4"/>
<circle cx="302.87" cy="375.50" r="1.38" fill="#20c068" stroke="#20c068" stroke-width="0.4"/>
<circle cx="306.94" cy="374.50" r="1.38" fill="#20c068" stroke="#20c068" stroke-width="0.4"/>
<circle cx="311.01" cy="373.50" r="1.38" fill="#20c068" stroke="#20c068" stroke-width="0.4"/>
<circle cx="315.08" cy="372.50" r="1.38" fill="#20c068" stroke="#20c068" stroke-width="0.4"/>
<circle cx="319.15" cy="368.40" r="1.38" fill="#20c068" stroke="#20c068" stroke-width="0.4"/>
<circle cx="323.22" cy="356.30" r="1.38" fill="#20c068" stroke="#20c068" stroke-width="0.4"/>
<circle cx="327.29" cy="344.00" r="1.38" fill="#20c068" stroke="#20c068" stroke-width="0.4"/>
<circle cx="331.36" cy="335.90" r="1.38" fill="#20c068" stroke="#20c068" stroke-width="0.4"/>
<circle cx="335.43" cy="332.50" r="1.38" fill="#20c068" stroke="#20c068" stroke-width="0.4"/>
<circle cx="339.50" cy="330.60" r="1.38" fill="#20c068" stroke="#20c068" stroke-width="0.4"/>
<circle cx="343.57" cy="329.90" r="1.38" fill="#20c068" stroke="#20c068" stroke-width="0.4"/>
<circle cx="347.64" cy="328.70" r="1.38" fill="#20c068" stroke="#20c068" stroke-width="0.4"/>
<circle cx="351.71" cy="328.20" r="1.38" fill="#20c068" stroke="#20c068" stroke-width="0.4"/>
<circle cx="355.78" cy="327.30" r="1.38" fill="#20c068" stroke="#20c068" stroke-width="0.4"/>
<circle cx="359.85" cy="326.93" r="1.38" fill="#20c068" stroke="#20c068" stroke-width="0.4"/>
<circle cx="363.92" cy="326.55" r="1.38" fill="#20c068" stroke="#20c068" stroke-width="0.4"/>
<circle cx="367.99" cy="326.18" r="1.38" fill="#20c068" stroke="#20c068" stroke-width="0.4"/>
<circle cx="372.06" cy="325.80" r="1.38" fill="#20c068" stroke="#20c068" stroke-width="0.4"/>
<circle cx="376.13" cy="325.51" r="1.38" fill="#20c068" stroke="#20c068" stroke-width="0.4"/>
<circle cx="380.20" cy="325.22" r="1.38" fill="#20c068" stroke="#20c068" stroke-width="0.4"/>
<circle cx="384.27" cy="324.93" r="1.38" fill="#20c068" stroke="#20c068" stroke-width="0.4"/>
<circle cx="388.34" cy="324.64" r="1.38" fill="#20c068" stroke="#20c068" stroke-width="0.4"/>
<circle cx="392.41" cy="324.35" r="1.38" fill="#20c068" stroke="#20c068" stroke-width="0.4"/>
<circle cx="396.48" cy="324.05" r="1.38" fill="#20c068" stroke="#20c068" stroke-width="0.4"/>
<circle cx="400.55" cy="323.76" r="1.38" fill="#20c068" stroke="#20c068" stroke-width="0.4"/>
<circle cx="404.62" cy="323.47" r="1.38" fill="#20c068" stroke="#20c068" stroke-width="0.4"/>
<circle cx="408.69" cy="323.18" r="1.38" fill="#20c068" stroke="#20c068" stroke-width="0.4"/>
<circle cx="412.76" cy="322.89" r="1.38" fill="#20c068" stroke="#20c068" stroke-width="0.4"/>
<circle cx="416.83" cy="322.60" r="1.38" fill="#20c068" stroke="#20c068" stroke-width="0.4"/>
<polyline points="298.80,378.00 302.87,376.00 306.94,375.40 311.01,374.10 315.08,372.20 319.15,364.80 323.22,352.10 327.29,340.10 331.36,333.00 335.43,329.90 339.50,327.70 343.57,326.70 347.64,326.00 351.71,325.30 355.78,324.50 359.85,324.30 363.92,324.10 367.99,323.75 372.06,323.40 376.13,323.08 380.20,322.76 384.27,322.45 388.34,322.13 392.41,321.81 396.48,321.49 400.55,321.17 404.62,320.85 408.69,320.54 412.76,320.22 416.83,319.90" fill="none" stroke="#7fb8b8" stroke-width="0.45"/>
<circle cx="298.80" cy="378.00" r="1.38" fill="#175f66" stroke="#175f66" stroke-width="0.4"/>
<circle cx="302.87" cy="376.00" r="1.38" fill="#175f66" stroke="#175f66" stroke-width="0.4"/>
<circle cx="306.94" cy="375.40" r="1.38" fill="#175f66" stroke="#175f66" stroke-width="0.4"/>
<circle cx="311.01" cy="374.10" r="1.38" fill="#175f66" stroke="#175f66" stroke-width="0.4"/>
<circle cx="315.08" cy="372.20" r="1.38" fill="#175f66" stroke="#175f66" stroke-width="0.4"/>
<circle cx="319.15" cy="364.80" r="1.38" fill="#175f66" stroke="#175f66" stroke-width="0.4"/>
<circle cx="323.22" cy="352.10" r="1.38" fill="#175f66" stroke="#175f66" stroke-width="0.4"/>
<circle cx="327.29" cy="340.10" r="1.38" fill="#175f66" stroke="#175f66" stroke-width="0.4"/>
<circle cx="331.36" cy="333.00" r="1.38" fill="#175f66" stroke="#175f66" stroke-width="0.4"/>
<circle cx="335.43" cy="329.90" r="1.38" fill="#175f66" stroke="#175f66" stroke-width="0.4"/>
<circle cx="339.50" cy="327.70" r="1.38" fill="#175f66" stroke="#175f66" stroke-width="0.4"/>
<circle cx="343.57" cy="326.70" r="1.38" fill="#175f66" stroke="#175f66" stroke-width="0.4"/>
<circle cx="347.64" cy="326.00" r="1.38" fill="#175f66" stroke="#175f66" stroke-width="0.4"/>
<circle cx="351.71" cy="325.30" r="1.38" fill="#175f66" stroke="#175f66" stroke-width="0.4"/>
<circle cx="355.78" cy="324.50" r="1.38" fill="#175f66" stroke="#175f66" stroke-width="0.4"/>
<circle cx="359.85" cy="324.30" r="1.38" fill="#175f66" stroke="#175f66" stroke-width="0.4"/>
<circle cx="363.92" cy="324.10" r="1.38" fill="#175f66" stroke="#175f66" stroke-width="0.4"/>
<circle cx="367.99" cy="323.75" r="1.38" fill="#175f66" stroke="#175f66" stroke-width="0.4"/>
<circle cx="372.06" cy="323.40" r="1.38" fill="#175f66" stroke="#175f66" stroke-width="0.4"/>
<circle cx="376.13" cy="323.08" r="1.38" fill="#175f66" stroke="#175f66" stroke-width="0.4"/>
<circle cx="380.20" cy="322.76" r="1.38" fill="#175f66" stroke="#175f66" stroke-width="0.4"/>
<circle cx="384.27" cy="322.45" r="1.38" fill="#175f66" stroke="#175f66" stroke-width="0.4"/>
<circle cx="388.34" cy="322.13" r="1.38" fill="#175f66" stroke="#175f66" stroke-width="0.4"/>
<circle cx="392.41" cy="321.81" r="1.38" fill="#175f66" stroke="#175f66" stroke-width="0.4"/>
<circle cx="396.48" cy="321.49" r="1.38" fill="#175f66" stroke="#175f66" stroke-width="0.4"/>
<circle cx="400.55" cy="321.17" r="1.38" fill="#175f66" stroke="#175f66" stroke-width="0.4"/>
<circle cx="404.62" cy="320.85" r="1.38" fill="#175f66" stroke="#175f66" stroke-width="0.4"/>
<circle cx="408.69" cy="320.54" r="1.38" fill="#175f66" stroke="#175f66" stroke-width="0.4"/>
<circle cx="412.76" cy="320.22" r="1.38" fill="#175f66" stroke="#175f66" stroke-width="0.4"/>
<circle cx="416.83" cy="319.90" r="1.38" fill="#175f66" stroke="#175f66" stroke-width="0.4"/>
<line x1="432.40000000000003" y1="290.1" x2="440.8" y2="290.1" stroke="#7fb8b8" stroke-width="0.45"/>
<circle cx="436.6" cy="290.1" r="1.3" fill="#175f66" stroke="#175f66" stroke-width="0.4"/>
<text x="445.60" y="291.70" font-size="4.6" fill="#222" stroke="#222" stroke-width="0.18">1 nM</text>
<line x1="432.40000000000003" y1="297.05" x2="440.8" y2="297.05" stroke="#8ee6b0" stroke-width="0.45"/>
<circle cx="436.6" cy="297.05" r="1.3" fill="#20c068" stroke="#20c068" stroke-width="0.4"/>
<text x="445.60" y="298.65" font-size="4.6" fill="#222" stroke="#222" stroke-width="0.18">500 pM</text>
<line x1="432.40000000000003" y1="304.0" x2="440.8" y2="304.0" stroke="#8ef0e0" stroke-width="0.45"/>
<circle cx="436.6" cy="304.0" r="1.3" fill="#22cbb0" stroke="#22cbb0" stroke-width="0.4"/>
<text x="445.60" y="305.60" font-size="4.6" fill="#222" stroke="#222" stroke-width="0.18">500 fM</text>
<line x1="432.40000000000003" y1="310.95000000000005" x2="440.8" y2="310.95000000000005" stroke="#dcee9a" stroke-width="0.45"/>
<circle cx="436.6" cy="310.95000000000005" r="1.3" fill="#a9cc33" stroke="#a9cc33" stroke-width="0.4"/>
<text x="445.60" y="312.55" font-size="4.6" fill="#222" stroke="#222" stroke-width="0.18">500 aM</text>
<line x1="432.40000000000003" y1="317.90000000000003" x2="440.8" y2="317.90000000000003" stroke="#c8e0d0" stroke-width="0.45"/>
<circle cx="436.6" cy="317.90000000000003" r="1.3" fill="#b5d2bf" stroke="#88aa96" stroke-width="0.4"/>
<text x="445.60" y="319.50" font-size="4.6" fill="#222" stroke="#222" stroke-width="0.18">100 aM</text>
<line x1="432.40000000000003" y1="324.85" x2="440.8" y2="324.85" stroke="#bbbbbb" stroke-width="0.45"/>
<circle cx="436.6" cy="324.85" r="1.3" fill="#ffffff" stroke="#999999" stroke-width="0.4"/>
<text x="445.60" y="326.45" font-size="4.6" fill="#222" stroke="#222" stroke-width="0.18">50 aM</text>
<line x1="432.40000000000003" y1="331.8" x2="440.8" y2="331.8" stroke="#999999" stroke-width="0.45"/>
<circle cx="436.6" cy="331.8" r="1.3" fill="#7a7a7a" stroke="#4e4e4e" stroke-width="0.4"/>
<text x="445.60" y="333.40" font-size="4.6" fill="#222" stroke="#222" stroke-width="0.18">NTC</text>
<path d="M69.6,431.4 L69.6,531 L192.6,531" fill="none" stroke="#7c7c7c" stroke-width="0.95"/>
<line x1="66.89999999999999" y1="431.4" x2="69.6" y2="431.4" stroke="#7c7c7c" stroke-width="0.7"/>
<text x="65.00" y="433.20" font-size="5.0" fill="#333" text-anchor="end" textLength="16" lengthAdjust="spacingAndGlyphs" stroke="#333" stroke-width="0.06">1.5•10<tspan font-size="3.3" dy="-2">4</tspan></text>
<line x1="66.89999999999999" y1="464.1" x2="69.6" y2="464.1" stroke="#7c7c7c" stroke-width="0.7"/>
<text x="65.00" y="465.90" font-size="5.0" fill="#333" text-anchor="end" textLength="16" lengthAdjust="spacingAndGlyphs" stroke="#333" stroke-width="0.06">1.0•10<tspan font-size="3.3" dy="-2">4</tspan></text>
<line x1="66.89999999999999" y1="497.2" x2="69.6" y2="497.2" stroke="#7c7c7c" stroke-width="0.7"/>
<text x="65.00" y="499.00" font-size="5.0" fill="#333" text-anchor="end" textLength="16" lengthAdjust="spacingAndGlyphs" stroke="#333" stroke-width="0.06">5.0•10<tspan font-size="3.3" dy="-2">3</tspan></text>
<line x1="66.89999999999999" y1="530.4" x2="69.6" y2="530.4" stroke="#7c7c7c" stroke-width="0.7"/>
<text x="65.00" y="532.20" font-size="5.0" fill="#333" text-anchor="end" stroke="#333" stroke-width="0.06">0.0</text>
<line x1="110.1" y1="531" x2="110.1" y2="533.3" stroke="#7c7c7c" stroke-width="0.7"/>
<text x="110.10" y="538.60" font-size="4.6" fill="#333" text-anchor="middle" stroke="#333" stroke-width="0.1">20</text>
<line x1="150.7" y1="531" x2="150.7" y2="533.3" stroke="#7c7c7c" stroke-width="0.7"/>
<text x="150.70" y="538.60" font-size="4.6" fill="#333" text-anchor="middle" stroke="#333" stroke-width="0.1">40</text>
<line x1="191" y1="531" x2="191" y2="533.3" stroke="#7c7c7c" stroke-width="0.7"/>
<text x="191.00" y="538.60" font-size="4.6" fill="#333" text-anchor="middle" stroke="#333" stroke-width="0.1">60</text>
<text x="134.00" y="544.30" font-size="5.6" fill="#222" text-anchor="middle" textLength="24.2" lengthAdjust="spacingAndGlyphs" stroke="#222" stroke-width="0.18">time (min)</text>
<text x="146.30" y="421.90" font-size="6.9" fill="#222" text-anchor="middle" textLength="19.2" lengthAdjust="spacingAndGlyphs" stroke="#222" stroke-width="0.15">TYLCV</text>
<text x="0" y="0" font-size="6.0" fill="#222" stroke="#222" stroke-width="0.15" text-anchor="middle" textLength="52" lengthAdjust="spacingAndGlyphs" transform="translate(45.3 476) rotate(-90)">Fluorescence (a.u.)</text>
<polyline points="73.60,529.50 77.67,529.36 81.74,529.22 85.81,529.09 89.88,528.95 93.95,528.81 98.02,528.67 102.09,528.53 106.16,528.40 110.23,528.26 114.30,528.12 118.37,527.98 122.44,527.84 126.51,527.71 130.58,527.57 134.65,527.43 138.72,527.29 142.79,527.16 146.86,527.02 150.93,526.88 155.00,526.74 159.07,526.60 163.14,526.47 167.21,526.33 171.28,526.19 175.35,526.05 179.42,525.91 183.49,525.78 187.56,525.64 191.63,525.50" fill="none" stroke="#bbbbbb" stroke-width="0.45"/>
<circle cx="73.60" cy="529.50" r="1.38" fill="#ffffff" stroke="#999999" stroke-width="0.4"/>
<circle cx="77.67" cy="529.36" r="1.38" fill="#ffffff" stroke="#999999" stroke-width="0.4"/>
<circle cx="81.74" cy="529.22" r="1.38" fill="#ffffff" stroke="#999999" stroke-width="0.4"/>
<circle cx="85.81" cy="529.09" r="1.38" fill="#ffffff" stroke="#999999" stroke-width="0.4"/>
<circle cx="89.88" cy="528.95" r="1.38" fill="#ffffff" stroke="#999999" stroke-width="0.4"/>
<circle cx="93.95" cy="528.81" r="1.38" fill="#ffffff" stroke="#999999" stroke-width="0.4"/>
<circle cx="98.02" cy="528.67" r="1.38" fill="#ffffff" stroke="#999999" stroke-width="0.4"/>
<circle cx="102.09" cy="528.53" r="1.38" fill="#ffffff" stroke="#999999" stroke-width="0.4"/>
<circle cx="106.16" cy="528.40" r="1.38" fill="#ffffff" stroke="#999999" stroke-width="0.4"/>
<circle cx="110.23" cy="528.26" r="1.38" fill="#ffffff" stroke="#999999" stroke-width="0.4"/>
<circle cx="114.30" cy="528.12" r="1.38" fill="#ffffff" stroke="#999999" stroke-width="0.4"/>
<circle cx="118.37" cy="527.98" r="1.38" fill="#ffffff" stroke="#999999" stroke-width="0.4"/>
<circle cx="122.44" cy="527.84" r="1.38" fill="#ffffff" stroke="#999999" stroke-width="0.4"/>
<circle cx="126.51" cy="527.71" r="1.38" fill="#ffffff" stroke="#999999" stroke-width="0.4"/>
<circle cx="130.58" cy="527.57" r="1.38" fill="#ffffff" stroke="#999999" stroke-width="0.4"/>
<circle cx="134.65" cy="527.43" r="1.38" fill="#ffffff" stroke="#999999" stroke-width="0.4"/>
<circle cx="138.72" cy="527.29" r="1.38" fill="#ffffff" stroke="#999999" stroke-width="0.4"/>
<circle cx="142.79" cy="527.16" r="1.38" fill="#ffffff" stroke="#999999" stroke-width="0.4"/>
<circle cx="146.86" cy="527.02" r="1.38" fill="#ffffff" stroke="#999999" stroke-width="0.4"/>
<circle cx="150.93" cy="526.88" r="1.38" fill="#ffffff" stroke="#999999" stroke-width="0.4"/>
<circle cx="155.00" cy="526.74" r="1.38" fill="#ffffff" stroke="#999999" stroke-width="0.4"/>
<circle cx="159.07" cy="526.60" r="1.38" fill="#ffffff" stroke="#999999" stroke-width="0.4"/>
<circle cx="163.14" cy="526.47" r="1.38" fill="#ffffff" stroke="#999999" stroke-width="0.4"/>
<circle cx="167.21" cy="526.33" r="1.38" fill="#ffffff" stroke="#999999" stroke-width="0.4"/>
<circle cx="171.28" cy="526.19" r="1.38" fill="#ffffff" stroke="#999999" stroke-width="0.4"/>
<circle cx="175.35" cy="526.05" r="1.38" fill="#ffffff" stroke="#999999" stroke-width="0.4"/>
<circle cx="179.42" cy="525.91" r="1.38" fill="#ffffff" stroke="#999999" stroke-width="0.4"/>
<circle cx="183.49" cy="525.78" r="1.38" fill="#ffffff" stroke="#999999" stroke-width="0.4"/>
<circle cx="187.56" cy="525.64" r="1.38" fill="#ffffff" stroke="#999999" stroke-width="0.4"/>
<circle cx="191.63" cy="525.50" r="1.38" fill="#ffffff" stroke="#999999" stroke-width="0.4"/>
<polyline points="73.60,529.20 77.67,529.05 81.74,528.90 85.81,528.74 89.88,528.59 93.95,528.44 98.02,528.29 102.09,528.14 106.16,527.99 110.23,527.83 114.30,527.68 118.37,527.53 122.44,527.38 126.51,527.23 130.58,527.08 134.65,526.92 138.72,526.77 142.79,526.62 146.86,526.47 150.93,526.32 155.00,526.17 159.07,526.01 163.14,525.86 167.21,525.71 171.28,525.56 175.35,525.41 179.42,525.26 183.49,525.10 187.56,524.95 191.63,524.80" fill="none" stroke="#999999" stroke-width="0.45"/>
<circle cx="73.60" cy="529.20" r="1.38" fill="#7a7a7a" stroke="#4e4e4e" stroke-width="0.4"/>
<circle cx="77.67" cy="529.05" r="1.38" fill="#7a7a7a" stroke="#4e4e4e" stroke-width="0.4"/>
<circle cx="81.74" cy="528.90" r="1.38" fill="#7a7a7a" stroke="#4e4e4e" stroke-width="0.4"/>
<circle cx="85.81" cy="528.74" r="1.38" fill="#7a7a7a" stroke="#4e4e4e" stroke-width="0.4"/>
<circle cx="89.88" cy="528.59" r="1.38" fill="#7a7a7a" stroke="#4e4e4e" stroke-width="0.4"/>
<circle cx="93.95" cy="528.44" r="1.38" fill="#7a7a7a" stroke="#4e4e4e" stroke-width="0.4"/>
<circle cx="98.02" cy="528.29" r="1.38" fill="#7a7a7a" stroke="#4e4e4e" stroke-width="0.4"/>
<circle cx="102.09" cy="528.14" r="1.38" fill="#7a7a7a" stroke="#4e4e4e" stroke-width="0.4"/>
<circle cx="106.16" cy="527.99" r="1.38" fill="#7a7a7a" stroke="#4e4e4e" stroke-width="0.4"/>
<circle cx="110.23" cy="527.83" r="1.38" fill="#7a7a7a" stroke="#4e4e4e" stroke-width="0.4"/>
<circle cx="114.30" cy="527.68" r="1.38" fill="#7a7a7a" stroke="#4e4e4e" stroke-width="0.4"/>
<circle cx="118.37" cy="527.53" r="1.38" fill="#7a7a7a" stroke="#4e4e4e" stroke-width="0.4"/>
<circle cx="122.44" cy="527.38" r="1.38" fill="#7a7a7a" stroke="#4e4e4e" stroke-width="0.4"/>
<circle cx="126.51" cy="527.23" r="1.38" fill="#7a7a7a" stroke="#4e4e4e" stroke-width="0.4"/>
<circle cx="130.58" cy="527.08" r="1.38" fill="#7a7a7a" stroke="#4e4e4e" stroke-width="0.4"/>
<circle cx="134.65" cy="526.92" r="1.38" fill="#7a7a7a" stroke="#4e4e4e" stroke-width="0.4"/>
<circle cx="138.72" cy="526.77" r="1.38" fill="#7a7a7a" stroke="#4e4e4e" stroke-width="0.4"/>
<circle cx="142.79" cy="526.62" r="1.38" fill="#7a7a7a" stroke="#4e4e4e" stroke-width="0.4"/>
<circle cx="146.86" cy="526.47" r="1.38" fill="#7a7a7a" stroke="#4e4e4e" stroke-width="0.4"/>
<circle cx="150.93" cy="526.32" r="1.38" fill="#7a7a7a" stroke="#4e4e4e" stroke-width="0.4"/>
<circle cx="155.00" cy="526.17" r="1.38" fill="#7a7a7a" stroke="#4e4e4e" stroke-width="0.4"/>
<circle cx="159.07" cy="526.01" r="1.38" fill="#7a7a7a" stroke="#4e4e4e" stroke-width="0.4"/>
<circle cx="163.14" cy="525.86" r="1.38" fill="#7a7a7a" stroke="#4e4e4e" stroke-width="0.4"/>
<circle cx="167.21" cy="525.71" r="1.38" fill="#7a7a7a" stroke="#4e4e4e" stroke-width="0.4"/>
<circle cx="171.28" cy="525.56" r="1.38" fill="#7a7a7a" stroke="#4e4e4e" stroke-width="0.4"/>
<circle cx="175.35" cy="525.41" r="1.38" fill="#7a7a7a" stroke="#4e4e4e" stroke-width="0.4"/>
<circle cx="179.42" cy="525.26" r="1.38" fill="#7a7a7a" stroke="#4e4e4e" stroke-width="0.4"/>
<circle cx="183.49" cy="525.10" r="1.38" fill="#7a7a7a" stroke="#4e4e4e" stroke-width="0.4"/>
<circle cx="187.56" cy="524.95" r="1.38" fill="#7a7a7a" stroke="#4e4e4e" stroke-width="0.4"/>
<circle cx="191.63" cy="524.80" r="1.38" fill="#7a7a7a" stroke="#4e4e4e" stroke-width="0.4"/>
<polyline points="73.60,528.90 77.67,528.50 81.74,525.40 85.81,517.80 89.88,503.10 93.95,484.40 98.02,468.20 102.09,459.20 106.16,449.70 110.23,445.60 114.30,443.50 118.37,442.50 122.44,442.50 126.51,442.50 130.58,442.50 134.65,442.50 138.72,442.75 142.79,443.00 146.86,443.25 150.93,443.50 155.00,443.75 159.07,444.00 163.14,444.25 167.21,444.50 171.28,444.75 175.35,445.00 179.42,445.25 183.49,445.50 187.56,445.75 191.63,446.00" fill="none" stroke="#8ee8e8" stroke-width="0.45"/>
<circle cx="73.60" cy="528.90" r="1.38" fill="#d4f3f1" stroke="#62cccc" stroke-width="0.4"/>
<circle cx="77.67" cy="528.50" r="1.38" fill="#d4f3f1" stroke="#62cccc" stroke-width="0.4"/>
<circle cx="81.74" cy="525.40" r="1.38" fill="#d4f3f1" stroke="#62cccc" stroke-width="0.4"/>
<circle cx="85.81" cy="517.80" r="1.38" fill="#d4f3f1" stroke="#62cccc" stroke-width="0.4"/>
<circle cx="89.88" cy="503.10" r="1.38" fill="#d4f3f1" stroke="#62cccc" stroke-width="0.4"/>
<circle cx="93.95" cy="484.40" r="1.38" fill="#d4f3f1" stroke="#62cccc" stroke-width="0.4"/>
<circle cx="98.02" cy="468.20" r="1.38" fill="#d4f3f1" stroke="#62cccc" stroke-width="0.4"/>
<circle cx="102.09" cy="459.20" r="1.38" fill="#d4f3f1" stroke="#62cccc" stroke-width="0.4"/>
<circle cx="106.16" cy="449.70" r="1.38" fill="#d4f3f1" stroke="#62cccc" stroke-width="0.4"/>
<circle cx="110.23" cy="445.60" r="1.38" fill="#d4f3f1" stroke="#62cccc" stroke-width="0.4"/>
<circle cx="114.30" cy="443.50" r="1.38" fill="#d4f3f1" stroke="#62cccc" stroke-width="0.4"/>
<circle cx="118.37" cy="442.50" r="1.38" fill="#d4f3f1" stroke="#62cccc" stroke-width="0.4"/>
<circle cx="122.44" cy="442.50" r="1.38" fill="#d4f3f1" stroke="#62cccc" stroke-width="0.4"/>
<circle cx="126.51" cy="442.50" r="1.38" fill="#d4f3f1" stroke="#62cccc" stroke-width="0.4"/>
<circle cx="130.58" cy="442.50" r="1.38" fill="#d4f3f1" stroke="#62cccc" stroke-width="0.4"/>
<circle cx="134.65" cy="442.50" r="1.38" fill="#d4f3f1" stroke="#62cccc" stroke-width="0.4"/>
<circle cx="138.72" cy="442.75" r="1.38" fill="#d4f3f1" stroke="#62cccc" stroke-width="0.4"/>
<circle cx="142.79" cy="443.00" r="1.38" fill="#d4f3f1" stroke="#62cccc" stroke-width="0.4"/>
<circle cx="146.86" cy="443.25" r="1.38" fill="#d4f3f1" stroke="#62cccc" stroke-width="0.4"/>
<circle cx="150.93" cy="443.50" r="1.38" fill="#d4f3f1" stroke="#62cccc" stroke-width="0.4"/>
<circle cx="155.00" cy="443.75" r="1.38" fill="#d4f3f1" stroke="#62cccc" stroke-width="0.4"/>
<circle cx="159.07" cy="444.00" r="1.38" fill="#d4f3f1" stroke="#62cccc" stroke-width="0.4"/>
<circle cx="163.14" cy="444.25" r="1.38" fill="#d4f3f1" stroke="#62cccc" stroke-width="0.4"/>
<circle cx="167.21" cy="444.50" r="1.38" fill="#d4f3f1" stroke="#62cccc" stroke-width="0.4"/>
<circle cx="171.28" cy="444.75" r="1.38" fill="#d4f3f1" stroke="#62cccc" stroke-width="0.4"/>
<circle cx="175.35" cy="445.00" r="1.38" fill="#d4f3f1" stroke="#62cccc" stroke-width="0.4"/>
<circle cx="179.42" cy="445.25" r="1.38" fill="#d4f3f1" stroke="#62cccc" stroke-width="0.4"/>
<circle cx="183.49" cy="445.50" r="1.38" fill="#d4f3f1" stroke="#62cccc" stroke-width="0.4"/>
<circle cx="187.56" cy="445.75" r="1.38" fill="#d4f3f1" stroke="#62cccc" stroke-width="0.4"/>
<circle cx="191.63" cy="446.00" r="1.38" fill="#d4f3f1" stroke="#62cccc" stroke-width="0.4"/>
<polyline points="73.60,529.00 77.67,528.33 81.74,527.67 85.81,527.00 89.88,521.00 93.95,508.20 98.02,495.80 102.09,483.40 106.16,472.00 110.23,463.40 114.30,458.20 118.37,455.20 122.44,454.10 126.51,454.10 130.58,454.10 134.65,454.10 138.72,454.31 142.79,454.51 146.86,454.72 150.93,454.93 155.00,455.14 159.07,455.34 163.14,455.55 167.21,455.76 171.28,455.96 175.35,456.17 179.42,456.38 183.49,456.59 187.56,456.79 191.63,457.00" fill="none" stroke="#8ee6da" stroke-width="0.45"/>
<circle cx="73.60" cy="529.00" r="1.38" fill="#2ccab4" stroke="#2ccab4" stroke-width="0.4"/>
<circle cx="77.67" cy="528.33" r="1.38" fill="#2ccab4" stroke="#2ccab4" stroke-width="0.4"/>
<circle cx="81.74" cy="527.67" r="1.38" fill="#2ccab4" stroke="#2ccab4" stroke-width="0.4"/>
<circle cx="85.81" cy="527.00" r="1.38" fill="#2ccab4" stroke="#2ccab4" stroke-width="0.4"/>
<circle cx="89.88" cy="521.00" r="1.38" fill="#2ccab4" stroke="#2ccab4" stroke-width="0.4"/>
<circle cx="93.95" cy="508.20" r="1.38" fill="#2ccab4" stroke="#2ccab4" stroke-width="0.4"/>
<circle cx="98.02" cy="495.80" r="1.38" fill="#2ccab4" stroke="#2ccab4" stroke-width="0.4"/>
<circle cx="102.09" cy="483.40" r="1.38" fill="#2ccab4" stroke="#2ccab4" stroke-width="0.4"/>
<circle cx="106.16" cy="472.00" r="1.38" fill="#2ccab4" stroke="#2ccab4" stroke-width="0.4"/>
<circle cx="110.23" cy="463.40" r="1.38" fill="#2ccab4" stroke="#2ccab4" stroke-width="0.4"/>
<circle cx="114.30" cy="458.20" r="1.38" fill="#2ccab4" stroke="#2ccab4" stroke-width="0.4"/>
<circle cx="118.37" cy="455.20" r="1.38" fill="#2ccab4" stroke="#2ccab4" stroke-width="0.4"/>
<circle cx="122.44" cy="454.10" r="1.38" fill="#2ccab4" stroke="#2ccab4" stroke-width="0.4"/>
<circle cx="126.51" cy="454.10" r="1.38" fill="#2ccab4" stroke="#2ccab4" stroke-width="0.4"/>
<circle cx="130.58" cy="454.10" r="1.38" fill="#2ccab4" stroke="#2ccab4" stroke-width="0.4"/>
<circle cx="134.65" cy="454.10" r="1.38" fill="#2ccab4" stroke="#2ccab4" stroke-width="0.4"/>
<circle cx="138.72" cy="454.31" r="1.38" fill="#2ccab4" stroke="#2ccab4" stroke-width="0.4"/>
<circle cx="142.79" cy="454.51" r="1.38" fill="#2ccab4" stroke="#2ccab4" stroke-width="0.4"/>
<circle cx="146.86" cy="454.72" r="1.38" fill="#2ccab4" stroke="#2ccab4" stroke-width="0.4"/>
<circle cx="150.93" cy="454.93" r="1.38" fill="#2ccab4" stroke="#2ccab4" stroke-width="0.4"/>
<circle cx="155.00" cy="455.14" r="1.38" fill="#2ccab4" stroke="#2ccab4" stroke-width="0.4"/>
<circle cx="159.07" cy="455.34" r="1.38" fill="#2ccab4" stroke="#2ccab4" stroke-width="0.4"/>
<circle cx="163.14" cy="455.55" r="1.38" fill="#2ccab4" stroke="#2ccab4" stroke-width="0.4"/>
<circle cx="167.21" cy="455.76" r="1.38" fill="#2ccab4" stroke="#2ccab4" stroke-width="0.4"/>
<circle cx="171.28" cy="455.96" r="1.38" fill="#2ccab4" stroke="#2ccab4" stroke-width="0.4"/>
<circle cx="175.35" cy="456.17" r="1.38" fill="#2ccab4" stroke="#2ccab4" stroke-width="0.4"/>
<circle cx="179.42" cy="456.38" r="1.38" fill="#2ccab4" stroke="#2ccab4" stroke-width="0.4"/>
<circle cx="183.49" cy="456.59" r="1.38" fill="#2ccab4" stroke="#2ccab4" stroke-width="0.4"/>
<circle cx="187.56" cy="456.79" r="1.38" fill="#2ccab4" stroke="#2ccab4" stroke-width="0.4"/>
<circle cx="191.63" cy="457.00" r="1.38" fill="#2ccab4" stroke="#2ccab4" stroke-width="0.4"/>
<polyline points="73.60,529.00 77.67,528.65 81.74,528.30 85.81,523.50 89.88,517.40 93.95,506.00 98.02,494.90 102.09,481.50 106.16,466.30 110.23,453.90 114.30,446.00 118.37,441.80 122.44,440.70 126.51,440.70 130.58,440.70 134.65,440.70 138.72,440.99 142.79,441.27 146.86,441.56 150.93,441.84 155.00,442.13 159.07,442.41 163.14,442.70 167.21,442.99 171.28,443.27 175.35,443.56 179.42,443.84 183.49,444.13 187.56,444.41 191.63,444.70" fill="none" stroke="#8ccff2" stroke-width="0.45"/>
<circle cx="73.60" cy="529.00" r="1.38" fill="#2b9fe0" stroke="#2b9fe0" stroke-width="0.4"/>
<circle cx="77.67" cy="528.65" r="1.38" fill="#2b9fe0" stroke="#2b9fe0" stroke-width="0.4"/>
<circle cx="81.74" cy="528.30" r="1.38" fill="#2b9fe0" stroke="#2b9fe0" stroke-width="0.4"/>
<circle cx="85.81" cy="523.50" r="1.38" fill="#2b9fe0" stroke="#2b9fe0" stroke-width="0.4"/>
<circle cx="89.88" cy="517.40" r="1.38" fill="#2b9fe0" stroke="#2b9fe0" stroke-width="0.4"/>
<circle cx="93.95" cy="506.00" r="1.38" fill="#2b9fe0" stroke="#2b9fe0" stroke-width="0.4"/>
<circle cx="98.02" cy="494.90" r="1.38" fill="#2b9fe0" stroke="#2b9fe0" stroke-width="0.4"/>
<circle cx="102.09" cy="481.50" r="1.38" fill="#2b9fe0" stroke="#2b9fe0" stroke-width="0.4"/>
<circle cx="106.16" cy="466.30" r="1.38" fill="#2b9fe0" stroke="#2b9fe0" stroke-width="0.4"/>
<circle cx="110.23" cy="453.90" r="1.38" fill="#2b9fe0" stroke="#2b9fe0" stroke-width="0.4"/>
<circle cx="114.30" cy="446.00" r="1.38" fill="#2b9fe0" stroke="#2b9fe0" stroke-width="0.4"/>
<circle cx="118.37" cy="441.80" r="1.38" fill="#2b9fe0" stroke="#2b9fe0" stroke-width="0.4"/>
<circle cx="122.44" cy="440.70" r="1.38" fill="#2b9fe0" stroke="#2b9fe0" stroke-width="0.4"/>
<circle cx="126.51" cy="440.70" r="1.38" fill="#2b9fe0" stroke="#2b9fe0" stroke-width="0.4"/>
<circle cx="130.58" cy="440.70" r="1.38" fill="#2b9fe0" stroke="#2b9fe0" stroke-width="0.4"/>
<circle cx="134.65" cy="440.70" r="1.38" fill="#2b9fe0" stroke="#2b9fe0" stroke-width="0.4"/>
<circle cx="138.72" cy="440.99" r="1.38" fill="#2b9fe0" stroke="#2b9fe0" stroke-width="0.4"/>
<circle cx="142.79" cy="441.27" r="1.38" fill="#2b9fe0" stroke="#2b9fe0" stroke-width="0.4"/>
<circle cx="146.86" cy="441.56" r="1.38" fill="#2b9fe0" stroke="#2b9fe0" stroke-width="0.4"/>
<circle cx="150.93" cy="441.84" r="1.38" fill="#2b9fe0" stroke="#2b9fe0" stroke-width="0.4"/>
<circle cx="155.00" cy="442.13" r="1.38" fill="#2b9fe0" stroke="#2b9fe0" stroke-width="0.4"/>
<circle cx="159.07" cy="442.41" r="1.38" fill="#2b9fe0" stroke="#2b9fe0" stroke-width="0.4"/>
<circle cx="163.14" cy="442.70" r="1.38" fill="#2b9fe0" stroke="#2b9fe0" stroke-width="0.4"/>
<circle cx="167.21" cy="442.99" r="1.38" fill="#2b9fe0" stroke="#2b9fe0" stroke-width="0.4"/>
<circle cx="171.28" cy="443.27" r="1.38" fill="#2b9fe0" stroke="#2b9fe0" stroke-width="0.4"/>
<circle cx="175.35" cy="443.56" r="1.38" fill="#2b9fe0" stroke="#2b9fe0" stroke-width="0.4"/>
<circle cx="179.42" cy="443.84" r="1.38" fill="#2b9fe0" stroke="#2b9fe0" stroke-width="0.4"/>
<circle cx="183.49" cy="444.13" r="1.38" fill="#2b9fe0" stroke="#2b9fe0" stroke-width="0.4"/>
<circle cx="187.56" cy="444.41" r="1.38" fill="#2b9fe0" stroke="#2b9fe0" stroke-width="0.4"/>
<circle cx="191.63" cy="444.70" r="1.38" fill="#2b9fe0" stroke="#2b9fe0" stroke-width="0.4"/>
<polyline points="73.60,529.00 77.67,528.75 81.74,528.50 85.81,524.50 89.88,518.20 93.95,507.30 98.02,493.00 102.09,477.30 106.16,465.30 110.23,456.70 114.30,452.00 118.37,449.60 122.44,449.20 126.51,449.20 130.58,449.20 134.65,449.20 138.72,449.37 142.79,449.54 146.86,449.71 150.93,449.89 155.00,450.06 159.07,450.23 163.14,450.40 167.21,450.57 171.28,450.74 175.35,450.91 179.42,451.09 183.49,451.26 187.56,451.43 191.63,451.60" fill="none" stroke="#7aa8e8" stroke-width="0.45"/>
<circle cx="73.60" cy="529.00" r="1.38" fill="#1c62c8" stroke="#1c62c8" stroke-width="0.4"/>
<circle cx="77.67" cy="528.75" r="1.38" fill="#1c62c8" stroke="#1c62c8" stroke-width="0.4"/>
<circle cx="81.74" cy="528.50" r="1.38" fill="#1c62c8" stroke="#1c62c8" stroke-width="0.4"/>
<circle cx="85.81" cy="524.50" r="1.38" fill="#1c62c8" stroke="#1c62c8" stroke-width="0.4"/>
<circle cx="89.88" cy="518.20" r="1.38" fill="#1c62c8" stroke="#1c62c8" stroke-width="0.4"/>
<circle cx="93.95" cy="507.30" r="1.38" fill="#1c62c8" stroke="#1c62c8" stroke-width="0.4"/>
<circle cx="98.02" cy="493.00" r="1.38" fill="#1c62c8" stroke="#1c62c8" stroke-width="0.4"/>
<circle cx="102.09" cy="477.30" r="1.38" fill="#1c62c8" stroke="#1c62c8" stroke-width="0.4"/>
<circle cx="106.16" cy="465.30" r="1.38" fill="#1c62c8" stroke="#1c62c8" stroke-width="0.4"/>
<circle cx="110.23" cy="456.70" r="1.38" fill="#1c62c8" stroke="#1c62c8" stroke-width="0.4"/>
<circle cx="114.30" cy="452.00" r="1.38" fill="#1c62c8" stroke="#1c62c8" stroke-width="0.4"/>
<circle cx="118.37" cy="449.60" r="1.38" fill="#1c62c8" stroke="#1c62c8" stroke-width="0.4"/>
<circle cx="122.44" cy="449.20" r="1.38" fill="#1c62c8" stroke="#1c62c8" stroke-width="0.4"/>
<circle cx="126.51" cy="449.20" r="1.38" fill="#1c62c8" stroke="#1c62c8" stroke-width="0.4"/>
<circle cx="130.58" cy="449.20" r="1.38" fill="#1c62c8" stroke="#1c62c8" stroke-width="0.4"/>
<circle cx="134.65" cy="449.20" r="1.38" fill="#1c62c8" stroke="#1c62c8" stroke-width="0.4"/>
<circle cx="138.72" cy="449.37" r="1.38" fill="#1c62c8" stroke="#1c62c8" stroke-width="0.4"/>
<circle cx="142.79" cy="449.54" r="1.38" fill="#1c62c8" stroke="#1c62c8" stroke-width="0.4"/>
<circle cx="146.86" cy="449.71" r="1.38" fill="#1c62c8" stroke="#1c62c8" stroke-width="0.4"/>
<circle cx="150.93" cy="449.89" r="1.38" fill="#1c62c8" stroke="#1c62c8" stroke-width="0.4"/>
<circle cx="155.00" cy="450.06" r="1.38" fill="#1c62c8" stroke="#1c62c8" stroke-width="0.4"/>
<circle cx="159.07" cy="450.23" r="1.38" fill="#1c62c8" stroke="#1c62c8" stroke-width="0.4"/>
<circle cx="163.14" cy="450.40" r="1.38" fill="#1c62c8" stroke="#1c62c8" stroke-width="0.4"/>
<circle cx="167.21" cy="450.57" r="1.38" fill="#1c62c8" stroke="#1c62c8" stroke-width="0.4"/>
<circle cx="171.28" cy="450.74" r="1.38" fill="#1c62c8" stroke="#1c62c8" stroke-width="0.4"/>
<circle cx="175.35" cy="450.91" r="1.38" fill="#1c62c8" stroke="#1c62c8" stroke-width="0.4"/>
<circle cx="179.42" cy="451.09" r="1.38" fill="#1c62c8" stroke="#1c62c8" stroke-width="0.4"/>
<circle cx="183.49" cy="451.26" r="1.38" fill="#1c62c8" stroke="#1c62c8" stroke-width="0.4"/>
<circle cx="187.56" cy="451.43" r="1.38" fill="#1c62c8" stroke="#1c62c8" stroke-width="0.4"/>
<circle cx="191.63" cy="451.60" r="1.38" fill="#1c62c8" stroke="#1c62c8" stroke-width="0.4"/>
<polyline points="73.60,529.00 77.67,528.80 81.74,527.30 85.81,523.50 89.88,514.00 93.95,501.60 98.02,485.90 102.09,470.10 106.16,457.30 110.23,449.10 114.30,445.30 118.37,443.80 122.44,443.50 126.51,443.50 130.58,443.50 134.65,443.50 138.72,443.84 142.79,444.19 146.86,444.53 150.93,444.87 155.00,445.21 159.07,445.56 163.14,445.90 167.21,446.24 171.28,446.59 175.35,446.93 179.42,447.27 183.49,447.61 187.56,447.96 191.63,448.30" fill="none" stroke="#6c8ad0" stroke-width="0.45"/>
<circle cx="73.60" cy="529.00" r="1.38" fill="#0b2360" stroke="#0b2360" stroke-width="0.4"/>
<circle cx="77.67" cy="528.80" r="1.38" fill="#0b2360" stroke="#0b2360" stroke-width="0.4"/>
<circle cx="81.74" cy="527.30" r="1.38" fill="#0b2360" stroke="#0b2360" stroke-width="0.4"/>
<circle cx="85.81" cy="523.50" r="1.38" fill="#0b2360" stroke="#0b2360" stroke-width="0.4"/>
<circle cx="89.88" cy="514.00" r="1.38" fill="#0b2360" stroke="#0b2360" stroke-width="0.4"/>
<circle cx="93.95" cy="501.60" r="1.38" fill="#0b2360" stroke="#0b2360" stroke-width="0.4"/>
<circle cx="98.02" cy="485.90" r="1.38" fill="#0b2360" stroke="#0b2360" stroke-width="0.4"/>
<circle cx="102.09" cy="470.10" r="1.38" fill="#0b2360" stroke="#0b2360" stroke-width="0.4"/>
<circle cx="106.16" cy="457.30" r="1.38" fill="#0b2360" stroke="#0b2360" stroke-width="0.4"/>
<circle cx="110.23" cy="449.10" r="1.38" fill="#0b2360" stroke="#0b2360" stroke-width="0.4"/>
<circle cx="114.30" cy="445.30" r="1.38" fill="#0b2360" stroke="#0b2360" stroke-width="0.4"/>
<circle cx="118.37" cy="443.80" r="1.38" fill="#0b2360" stroke="#0b2360" stroke-width="0.4"/>
<circle cx="122.44" cy="443.50" r="1.38" fill="#0b2360" stroke="#0b2360" stroke-width="0.4"/>
<circle cx="126.51" cy="443.50" r="1.38" fill="#0b2360" stroke="#0b2360" stroke-width="0.4"/>
<circle cx="130.58" cy="443.50" r="1.38" fill="#0b2360" stroke="#0b2360" stroke-width="0.4"/>
<circle cx="134.65" cy="443.50" r="1.38" fill="#0b2360" stroke="#0b2360" stroke-width="0.4"/>
<circle cx="138.72" cy="443.84" r="1.38" fill="#0b2360" stroke="#0b2360" stroke-width="0.4"/>
<circle cx="142.79" cy="444.19" r="1.38" fill="#0b2360" stroke="#0b2360" stroke-width="0.4"/>
<circle cx="146.86" cy="444.53" r="1.38" fill="#0b2360" stroke="#0b2360" stroke-width="0.4"/>
<circle cx="150.93" cy="444.87" r="1.38" fill="#0b2360" stroke="#0b2360" stroke-width="0.4"/>
<circle cx="155.00" cy="445.21" r="1.38" fill="#0b2360" stroke="#0b2360" stroke-width="0.4"/>
<circle cx="159.07" cy="445.56" r="1.38" fill="#0b2360" stroke="#0b2360" stroke-width="0.4"/>
<circle cx="163.14" cy="445.90" r="1.38" fill="#0b2360" stroke="#0b2360" stroke-width="0.4"/>
<circle cx="167.21" cy="446.24" r="1.38" fill="#0b2360" stroke="#0b2360" stroke-width="0.4"/>
<circle cx="171.28" cy="446.59" r="1.38" fill="#0b2360" stroke="#0b2360" stroke-width="0.4"/>
<circle cx="175.35" cy="446.93" r="1.38" fill="#0b2360" stroke="#0b2360" stroke-width="0.4"/>
<circle cx="179.42" cy="447.27" r="1.38" fill="#0b2360" stroke="#0b2360" stroke-width="0.4"/>
<circle cx="183.49" cy="447.61" r="1.38" fill="#0b2360" stroke="#0b2360" stroke-width="0.4"/>
<circle cx="187.56" cy="447.96" r="1.38" fill="#0b2360" stroke="#0b2360" stroke-width="0.4"/>
<circle cx="191.63" cy="448.30" r="1.38" fill="#0b2360" stroke="#0b2360" stroke-width="0.4"/>
<line x1="209.20000000000002" y1="434.9" x2="217.6" y2="434.9" stroke="#6c8ad0" stroke-width="0.45"/>
<circle cx="213.4" cy="434.9" r="1.3" fill="#0b2360" stroke="#0b2360" stroke-width="0.4"/>
<text x="222.60" y="436.50" font-size="4.6" fill="#222" stroke="#222" stroke-width="0.18">1 nM</text>
<line x1="209.20000000000002" y1="442.0" x2="217.6" y2="442.0" stroke="#7aa8e8" stroke-width="0.45"/>
<circle cx="213.4" cy="442.0" r="1.3" fill="#1c62c8" stroke="#1c62c8" stroke-width="0.4"/>
<text x="222.60" y="443.60" font-size="4.6" fill="#222" stroke="#222" stroke-width="0.18">500 pM</text>
<line x1="209.20000000000002" y1="449.09999999999997" x2="217.6" y2="449.09999999999997" stroke="#8ccff2" stroke-width="0.45"/>
<circle cx="213.4" cy="449.09999999999997" r="1.3" fill="#2b9fe0" stroke="#2b9fe0" stroke-width="0.4"/>
<text x="222.60" y="450.70" font-size="4.6" fill="#222" stroke="#222" stroke-width="0.18">500 fM</text>
<line x1="209.20000000000002" y1="456.2" x2="217.6" y2="456.2" stroke="#8ee6da" stroke-width="0.45"/>
<circle cx="213.4" cy="456.2" r="1.3" fill="#2ccab4" stroke="#2ccab4" stroke-width="0.4"/>
<text x="222.60" y="457.80" font-size="4.6" fill="#222" stroke="#222" stroke-width="0.18">500 aM</text>
<line x1="209.20000000000002" y1="463.29999999999995" x2="217.6" y2="463.29999999999995" stroke="#8ee8e8" stroke-width="0.45"/>
<circle cx="213.4" cy="463.29999999999995" r="1.3" fill="#d4f3f1" stroke="#62cccc" stroke-width="0.4"/>
<text x="222.60" y="464.90" font-size="4.6" fill="#222" stroke="#222" stroke-width="0.18">100 aM</text>
<line x1="209.20000000000002" y1="470.4" x2="217.6" y2="470.4" stroke="#bbbbbb" stroke-width="0.45"/>
<circle cx="213.4" cy="470.4" r="1.3" fill="#ffffff" stroke="#999999" stroke-width="0.4"/>
<text x="222.60" y="472.00" font-size="4.6" fill="#222" stroke="#222" stroke-width="0.18">50 aM</text>
<line x1="209.20000000000002" y1="477.5" x2="217.6" y2="477.5" stroke="#999999" stroke-width="0.45"/>
<circle cx="213.4" cy="477.5" r="1.3" fill="#7a7a7a" stroke="#4e4e4e" stroke-width="0.4"/>
<text x="222.60" y="479.10" font-size="4.6" fill="#222" stroke="#222" stroke-width="0.18">NTC</text>
<path d="M294.5,428.2 L294.5,531 L417.3,531" fill="none" stroke="#7c7c7c" stroke-width="0.95"/>
<line x1="291.8" y1="442.7" x2="294.5" y2="442.7" stroke="#7c7c7c" stroke-width="0.7"/>
<text x="289.90" y="444.50" font-size="5.0" fill="#333" text-anchor="end" textLength="16" lengthAdjust="spacingAndGlyphs" stroke="#333" stroke-width="0.06">1.5•10<tspan font-size="3.3" dy="-2">5</tspan></text>
<line x1="291.8" y1="472" x2="294.5" y2="472" stroke="#7c7c7c" stroke-width="0.7"/>
<text x="289.90" y="473.80" font-size="5.0" fill="#333" text-anchor="end" textLength="16" lengthAdjust="spacingAndGlyphs" stroke="#333" stroke-width="0.06">1.0•10<tspan font-size="3.3" dy="-2">5</tspan></text>
<line x1="291.8" y1="501.3" x2="294.5" y2="501.3" stroke="#7c7c7c" stroke-width="0.7"/>
<text x="289.90" y="503.10" font-size="5.0" fill="#333" text-anchor="end" textLength="16" lengthAdjust="spacingAndGlyphs" stroke="#333" stroke-width="0.06">5.0•10<tspan font-size="3.3" dy="-2">5</tspan></text>
<line x1="291.8" y1="530.6" x2="294.5" y2="530.6" stroke="#7c7c7c" stroke-width="0.7"/>
<text x="289.90" y="532.40" font-size="5.0" fill="#333" text-anchor="end" stroke="#333" stroke-width="0.06">0.0</text>
<line x1="335" y1="531" x2="335" y2="533.3" stroke="#7c7c7c" stroke-width="0.7"/>
<text x="335.00" y="538.60" font-size="4.6" fill="#333" text-anchor="middle" stroke="#333" stroke-width="0.1">20</text>
<line x1="375.9" y1="531" x2="375.9" y2="533.3" stroke="#7c7c7c" stroke-width="0.7"/>
<text x="375.90" y="538.60" font-size="4.6" fill="#333" text-anchor="middle" stroke="#333" stroke-width="0.1">40</text>
<line x1="416.7" y1="531" x2="416.7" y2="533.3" stroke="#7c7c7c" stroke-width="0.7"/>
<text x="416.70" y="538.60" font-size="4.6" fill="#333" text-anchor="middle" stroke="#333" stroke-width="0.1">60</text>
<text x="361.20" y="544.60" font-size="5.6" fill="#222" text-anchor="middle" textLength="24.2" lengthAdjust="spacingAndGlyphs" stroke="#222" stroke-width="0.18">time (min)</text>
<text x="361.60" y="421.30" font-size="6.9" fill="#222" text-anchor="middle" textLength="26.2" lengthAdjust="spacingAndGlyphs" stroke="#222" stroke-width="0.15">ToLCNDV</text>
<polyline points="298.80,529.50 302.90,529.36 307.00,529.22 311.10,529.09 315.20,528.95 319.30,528.81 323.40,528.67 327.50,528.53 331.60,528.40 335.70,528.26 339.80,528.12 343.90,527.98 348.00,527.84 352.10,527.71 356.20,527.57 360.30,527.43 364.40,527.29 368.50,527.16 372.60,527.02 376.70,526.88 380.80,526.74 384.90,526.60 389.00,526.47 393.10,526.33 397.20,526.19 401.30,526.05 405.40,525.91 409.50,525.78 413.60,525.64 417.70,525.50" fill="none" stroke="#bbbbbb" stroke-width="0.45"/>
<circle cx="298.80" cy="529.50" r="1.38" fill="#ffffff" stroke="#999999" stroke-width="0.4"/>
<circle cx="302.90" cy="529.36" r="1.38" fill="#ffffff" stroke="#999999" stroke-width="0.4"/>
<circle cx="307.00" cy="529.22" r="1.38" fill="#ffffff" stroke="#999999" stroke-width="0.4"/>
<circle cx="311.10" cy="529.09" r="1.38" fill="#ffffff" stroke="#999999" stroke-width="0.4"/>
<circle cx="315.20" cy="528.95" r="1.38" fill="#ffffff" stroke="#999999" stroke-width="0.4"/>
<circle cx="319.30" cy="528.81" r="1.38" fill="#ffffff" stroke="#999999" stroke-width="0.4"/>
<circle cx="323.40" cy="528.67" r="1.38" fill="#ffffff" stroke="#999999" stroke-width="0.4"/>
<circle cx="327.50" cy="528.53" r="1.38" fill="#ffffff" stroke="#999999" stroke-width="0.4"/>
<circle cx="331.60" cy="528.40" r="1.38" fill="#ffffff" stroke="#999999" stroke-width="0.4"/>
<circle cx="335.70" cy="528.26" r="1.38" fill="#ffffff" stroke="#999999" stroke-width="0.4"/>
<circle cx="339.80" cy="528.12" r="1.38" fill="#ffffff" stroke="#999999" stroke-width="0.4"/>
<circle cx="343.90" cy="527.98" r="1.38" fill="#ffffff" stroke="#999999" stroke-width="0.4"/>
<circle cx="348.00" cy="527.84" r="1.38" fill="#ffffff" stroke="#999999" stroke-width="0.4"/>
<circle cx="352.10" cy="527.71" r="1.38" fill="#ffffff" stroke="#999999" stroke-width="0.4"/>
<circle cx="356.20" cy="527.57" r="1.38" fill="#ffffff" stroke="#999999" stroke-width="0.4"/>
<circle cx="360.30" cy="527.43" r="1.38" fill="#ffffff" stroke="#999999" stroke-width="0.4"/>
<circle cx="364.40" cy="527.29" r="1.38" fill="#ffffff" stroke="#999999" stroke-width="0.4"/>
<circle cx="368.50" cy="527.16" r="1.38" fill="#ffffff" stroke="#999999" stroke-width="0.4"/>
<circle cx="372.60" cy="527.02" r="1.38" fill="#ffffff" stroke="#999999" stroke-width="0.4"/>
<circle cx="376.70" cy="526.88" r="1.38" fill="#ffffff" stroke="#999999" stroke-width="0.4"/>
<circle cx="380.80" cy="526.74" r="1.38" fill="#ffffff" stroke="#999999" stroke-width="0.4"/>
<circle cx="384.90" cy="526.60" r="1.38" fill="#ffffff" stroke="#999999" stroke-width="0.4"/>
<circle cx="389.00" cy="526.47" r="1.38" fill="#ffffff" stroke="#999999" stroke-width="0.4"/>
<circle cx="393.10" cy="526.33" r="1.38" fill="#ffffff" stroke="#999999" stroke-width="0.4"/>
<circle cx="397.20" cy="526.19" r="1.38" fill="#ffffff" stroke="#999999" stroke-width="0.4"/>
<circle cx="401.30" cy="526.05" r="1.38" fill="#ffffff" stroke="#999999" stroke-width="0.4"/>
<circle cx="405.40" cy="525.91" r="1.38" fill="#ffffff" stroke="#999999" stroke-width="0.4"/>
<circle cx="409.50" cy="525.78" r="1.38" fill="#ffffff" stroke="#999999" stroke-width="0.4"/>
<circle cx="413.60" cy="525.64" r="1.38" fill="#ffffff" stroke="#999999" stroke-width="0.4"/>
<circle cx="417.70" cy="525.50" r="1.38" fill="#ffffff" stroke="#999999" stroke-width="0.4"/>
<polyline points="298.80,529.20 302.90,529.06 307.00,528.92 311.10,528.78 315.20,528.63 319.30,528.49 323.40,528.35 327.50,528.21 331.60,528.07 335.70,527.93 339.80,527.79 343.90,527.64 348.00,527.50 352.10,527.36 356.20,527.22 360.30,527.08 364.40,526.94 368.50,526.80 372.60,526.66 376.70,526.51 380.80,526.37 384.90,526.23 389.00,526.09 393.10,525.95 397.20,525.81 401.30,525.67 405.40,525.52 409.50,525.38 413.60,525.24 417.70,525.10" fill="none" stroke="#999999" stroke-width="0.45"/>
<circle cx="298.80" cy="529.20" r="1.38" fill="#7a7a7a" stroke="#4e4e4e" stroke-width="0.4"/>
<circle cx="302.90" cy="529.06" r="1.38" fill="#7a7a7a" stroke="#4e4e4e" stroke-width="0.4"/>
<circle cx="307.00" cy="528.92" r="1.38" fill="#7a7a7a" stroke="#4e4e4e" stroke-width="0.4"/>
<circle cx="311.10" cy="528.78" r="1.38" fill="#7a7a7a" stroke="#4e4e4e" stroke-width="0.4"/>
<circle cx="315.20" cy="528.63" r="1.38" fill="#7a7a7a" stroke="#4e4e4e" stroke-width="0.4"/>
<circle cx="319.30" cy="528.49" r="1.38" fill="#7a7a7a" stroke="#4e4e4e" stroke-width="0.4"/>
<circle cx="323.40" cy="528.35" r="1.38" fill="#7a7a7a" stroke="#4e4e4e" stroke-width="0.4"/>
<circle cx="327.50" cy="528.21" r="1.38" fill="#7a7a7a" stroke="#4e4e4e" stroke-width="0.4"/>
<circle cx="331.60" cy="528.07" r="1.38" fill="#7a7a7a" stroke="#4e4e4e" stroke-width="0.4"/>
<circle cx="335.70" cy="527.93" r="1.38" fill="#7a7a7a" stroke="#4e4e4e" stroke-width="0.4"/>
<circle cx="339.80" cy="527.79" r="1.38" fill="#7a7a7a" stroke="#4e4e4e" stroke-width="0.4"/>
<circle cx="343.90" cy="527.64" r="1.38" fill="#7a7a7a" stroke="#4e4e4e" stroke-width="0.4"/>
<circle cx="348.00" cy="527.50" r="1.38" fill="#7a7a7a" stroke="#4e4e4e" stroke-width="0.4"/>
<circle cx="352.10" cy="527.36" r="1.38" fill="#7a7a7a" stroke="#4e4e4e" stroke-width="0.4"/>
<circle cx="356.20" cy="527.22" r="1.38" fill="#7a7a7a" stroke="#4e4e4e" stroke-width="0.4"/>
<circle cx="360.30" cy="527.08" r="1.38" fill="#7a7a7a" stroke="#4e4e4e" stroke-width="0.4"/>
<circle cx="364.40" cy="526.94" r="1.38" fill="#7a7a7a" stroke="#4e4e4e" stroke-width="0.4"/>
<circle cx="368.50" cy="526.80" r="1.38" fill="#7a7a7a" stroke="#4e4e4e" stroke-width="0.4"/>
<circle cx="372.60" cy="526.66" r="1.38" fill="#7a7a7a" stroke="#4e4e4e" stroke-width="0.4"/>
<circle cx="376.70" cy="526.51" r="1.38" fill="#7a7a7a" stroke="#4e4e4e" stroke-width="0.4"/>
<circle cx="380.80" cy="526.37" r="1.38" fill="#7a7a7a" stroke="#4e4e4e" stroke-width="0.4"/>
<circle cx="384.90" cy="526.23" r="1.38" fill="#7a7a7a" stroke="#4e4e4e" stroke-width="0.4"/>
<circle cx="389.00" cy="526.09" r="1.38" fill="#7a7a7a" stroke="#4e4e4e" stroke-width="0.4"/>
<circle cx="393.10" cy="525.95" r="1.38" fill="#7a7a7a" stroke="#4e4e4e" stroke-width="0.4"/>
<circle cx="397.20" cy="525.81" r="1.38" fill="#7a7a7a" stroke="#4e4e4e" stroke-width="0.4"/>
<circle cx="401.30" cy="525.67" r="1.38" fill="#7a7a7a" stroke="#4e4e4e" stroke-width="0.4"/>
<circle cx="405.40" cy="525.52" r="1.38" fill="#7a7a7a" stroke="#4e4e4e" stroke-width="0.4"/>
<circle cx="409.50" cy="525.38" r="1.38" fill="#7a7a7a" stroke="#4e4e4e" stroke-width="0.4"/>
<circle cx="413.60" cy="525.24" r="1.38" fill="#7a7a7a" stroke="#4e4e4e" stroke-width="0.4"/>
<circle cx="417.70" cy="525.10" r="1.38" fill="#7a7a7a" stroke="#4e4e4e" stroke-width="0.4"/>
<polyline points="298.80,529.00 302.90,528.50 307.00,527.00 311.10,524.50 315.20,510.00 319.30,490.00 323.40,475.00 327.50,467.40 331.60,459.00 335.70,454.60 339.80,454.00 343.90,454.10 348.00,454.20 352.10,454.30 356.20,454.40 360.30,454.50 364.40,454.67 368.50,454.83 372.60,455.00 376.70,457.20 380.80,456.20 384.90,456.36 389.00,456.51 393.10,456.67 397.20,456.82 401.30,456.98 405.40,457.13 409.50,457.29 413.60,457.44 417.70,457.60" fill="none" stroke="#c8e0d0" stroke-width="0.45"/>
<circle cx="298.80" cy="529.00" r="1.38" fill="#b5d2bf" stroke="#88aa96" stroke-width="0.4"/>
<circle cx="302.90" cy="528.50" r="1.38" fill="#b5d2bf" stroke="#88aa96" stroke-width="0.4"/>
<circle cx="307.00" cy="527.00" r="1.38" fill="#b5d2bf" stroke="#88aa96" stroke-width="0.4"/>
<circle cx="311.10" cy="524.50" r="1.38" fill="#b5d2bf" stroke="#88aa96" stroke-width="0.4"/>
<circle cx="315.20" cy="510.00" r="1.38" fill="#b5d2bf" stroke="#88aa96" stroke-width="0.4"/>
<circle cx="319.30" cy="490.00" r="1.38" fill="#b5d2bf" stroke="#88aa96" stroke-width="0.4"/>
<circle cx="323.40" cy="475.00" r="1.38" fill="#b5d2bf" stroke="#88aa96" stroke-width="0.4"/>
<circle cx="327.50" cy="467.40" r="1.38" fill="#b5d2bf" stroke="#88aa96" stroke-width="0.4"/>
<circle cx="331.60" cy="459.00" r="1.38" fill="#b5d2bf" stroke="#88aa96" stroke-width="0.4"/>
<circle cx="335.70" cy="454.60" r="1.38" fill="#b5d2bf" stroke="#88aa96" stroke-width="0.4"/>
<circle cx="339.80" cy="454.00" r="1.38" fill="#b5d2bf" stroke="#88aa96" stroke-width="0.4"/>
<circle cx="343.90" cy="454.10" r="1.38" fill="#b5d2bf" stroke="#88aa96" stroke-width="0.4"/>
<circle cx="348.00" cy="454.20" r="1.38" fill="#b5d2bf" stroke="#88aa96" stroke-width="0.4"/>
<circle cx="352.10" cy="454.30" r="1.38" fill="#b5d2bf" stroke="#88aa96" stroke-width="0.4"/>
<circle cx="356.20" cy="454.40" r="1.38" fill="#b5d2bf" stroke="#88aa96" stroke-width="0.4"/>
<circle cx="360.30" cy="454.50" r="1.38" fill="#b5d2bf" stroke="#88aa96" stroke-width="0.4"/>
<circle cx="364.40" cy="454.67" r="1.38" fill="#b5d2bf" stroke="#88aa96" stroke-width="0.4"/>
<circle cx="368.50" cy="454.83" r="1.38" fill="#b5d2bf" stroke="#88aa96" stroke-width="0.4"/>
<circle cx="372.60" cy="455.00" r="1.38" fill="#b5d2bf" stroke="#88aa96" stroke-width="0.4"/>
<circle cx="376.70" cy="457.20" r="1.38" fill="#b5d2bf" stroke="#88aa96" stroke-width="0.4"/>
<circle cx="380.80" cy="456.20" r="1.38" fill="#b5d2bf" stroke="#88aa96" stroke-width="0.4"/>
<circle cx="384.90" cy="456.36" r="1.38" fill="#b5d2bf" stroke="#88aa96" stroke-width="0.4"/>
<circle cx="389.00" cy="456.51" r="1.38" fill="#b5d2bf" stroke="#88aa96" stroke-width="0.4"/>
<circle cx="393.10" cy="456.67" r="1.38" fill="#b5d2bf" stroke="#88aa96" stroke-width="0.4"/>
<circle cx="397.20" cy="456.82" r="1.38" fill="#b5d2bf" stroke="#88aa96" stroke-width="0.4"/>
<circle cx="401.30" cy="456.98" r="1.38" fill="#b5d2bf" stroke="#88aa96" stroke-width="0.4"/>
<circle cx="405.40" cy="457.13" r="1.38" fill="#b5d2bf" stroke="#88aa96" stroke-width="0.4"/>
<circle cx="409.50" cy="457.29" r="1.38" fill="#b5d2bf" stroke="#88aa96" stroke-width="0.4"/>
<circle cx="413.60" cy="457.44" r="1.38" fill="#b5d2bf" stroke="#88aa96" stroke-width="0.4"/>
<circle cx="417.70" cy="457.60" r="1.38" fill="#b5d2bf" stroke="#88aa96" stroke-width="0.4"/>
<polyline points="298.80,529.50 302.90,529.00 307.00,527.50 311.10,525.00 315.20,519.00 319.30,508.00 323.40,494.00 327.50,478.60 331.60,464.00 335.70,454.60 339.80,448.60 343.90,443.00 348.00,440.50 352.10,439.50 356.20,439.50 360.30,439.50 364.40,439.86 368.50,440.21 372.60,440.57 376.70,440.93 380.80,441.29 384.90,441.64 389.00,442.00 393.10,442.36 397.20,442.71 401.30,443.07 405.40,443.43 409.50,443.79 413.60,444.14 417.70,444.50" fill="none" stroke="#dcee9a" stroke-width="0.45"/>
<circle cx="298.80" cy="529.50" r="1.38" fill="#a9cc33" stroke="#a9cc33" stroke-width="0.4"/>
<circle cx="302.90" cy="529.00" r="1.38" fill="#a9cc33" stroke="#a9cc33" stroke-width="0.4"/>
<circle cx="307.00" cy="527.50" r="1.38" fill="#a9cc33" stroke="#a9cc33" stroke-width="0.4"/>
<circle cx="311.10" cy="525.00" r="1.38" fill="#a9cc33" stroke="#a9cc33" stroke-width="0.4"/>
<circle cx="315.20" cy="519.00" r="1.38" fill="#a9cc33" stroke="#a9cc33" stroke-width="0.4"/>
<circle cx="319.30" cy="508.00" r="1.38" fill="#a9cc33" stroke="#a9cc33" stroke-width="0.4"/>
<circle cx="323.40" cy="494.00" r="1.38" fill="#a9cc33" stroke="#a9cc33" stroke-width="0.4"/>
<circle cx="327.50" cy="478.60" r="1.38" fill="#a9cc33" stroke="#a9cc33" stroke-width="0.4"/>
<circle cx="331.60" cy="464.00" r="1.38" fill="#a9cc33" stroke="#a9cc33" stroke-width="0.4"/>
<circle cx="335.70" cy="454.60" r="1.38" fill="#a9cc33" stroke="#a9cc33" stroke-width="0.4"/>
<circle cx="339.80" cy="448.60" r="1.38" fill="#a9cc33" stroke="#a9cc33" stroke-width="0.4"/>
<circle cx="343.90" cy="443.00" r="1.38" fill="#a9cc33" stroke="#a9cc33" stroke-width="0.4"/>
<circle cx="348.00" cy="440.50" r="1.38" fill="#a9cc33" stroke="#a9cc33" stroke-width="0.4"/>
<circle cx="352.10" cy="439.50" r="1.38" fill="#a9cc33" stroke="#a9cc33" stroke-width="0.4"/>
<circle cx="356.20" cy="439.50" r="1.38" fill="#a9cc33" stroke="#a9cc33" stroke-width="0.4"/>
<circle cx="360.30" cy="439.50" r="1.38" fill="#a9cc33" stroke="#a9cc33" stroke-width="0.4"/>
<circle cx="364.40" cy="439.86" r="1.38" fill="#a9cc33" stroke="#a9cc33" stroke-width="0.4"/>
<circle cx="368.50" cy="440.21" r="1.38" fill="#a9cc33" stroke="#a9cc33" stroke-width="0.4"/>
<circle cx="372.60" cy="440.57" r="1.38" fill="#a9cc33" stroke="#a9cc33" stroke-width="0.4"/>
<circle cx="376.70" cy="440.93" r="1.38" fill="#a9cc33" stroke="#a9cc33" stroke-width="0.4"/>
<circle cx="380.80" cy="441.29" r="1.38" fill="#a9cc33" stroke="#a9cc33" stroke-width="0.4"/>
<circle cx="384.90" cy="441.64" r="1.38" fill="#a9cc33" stroke="#a9cc33" stroke-width="0.4"/>
<circle cx="389.00" cy="442.00" r="1.38" fill="#a9cc33" stroke="#a9cc33" stroke-width="0.4"/>
<circle cx="393.10" cy="442.36" r="1.38" fill="#a9cc33" stroke="#a9cc33" stroke-width="0.4"/>
<circle cx="397.20" cy="442.71" r="1.38" fill="#a9cc33" stroke="#a9cc33" stroke-width="0.4"/>
<circle cx="401.30" cy="443.07" r="1.38" fill="#a9cc33" stroke="#a9cc33" stroke-width="0.4"/>
<circle cx="405.40" cy="443.43" r="1.38" fill="#a9cc33" stroke="#a9cc33" stroke-width="0.4"/>
<circle cx="409.50" cy="443.79" r="1.38" fill="#a9cc33" stroke="#a9cc33" stroke-width="0.4"/>
<circle cx="413.60" cy="444.14" r="1.38" fill="#a9cc33" stroke="#a9cc33" stroke-width="0.4"/>
<circle cx="417.70" cy="444.50" r="1.38" fill="#a9cc33" stroke="#a9cc33" stroke-width="0.4"/>
<polyline points="298.80,529.00 302.90,528.50 307.00,526.50 311.10,524.00 315.20,516.00 319.30,504.00 323.40,487.00 327.50,470.00 331.60,454.60 335.70,444.00 339.80,438.00 343.90,436.50 348.00,436.30 352.10,436.10 356.20,436.28 360.30,436.46 364.40,436.64 368.50,436.83 372.60,437.01 376.70,437.19 380.80,437.37 384.90,437.55 389.00,437.73 393.10,437.91 397.20,438.09 401.30,438.27 405.40,438.46 409.50,438.64 413.60,438.82 417.70,439.00" fill="none" stroke="#8ef0e0" stroke-width="0.45"/>
<circle cx="298.80" cy="529.00" r="1.38" fill="#22cbb0" stroke="#22cbb0" stroke-width="0.4"/>
<circle cx="302.90" cy="528.50" r="1.38" fill="#22cbb0" stroke="#22cbb0" stroke-width="0.4"/>
<circle cx="307.00" cy="526.50" r="1.38" fill="#22cbb0" stroke="#22cbb0" stroke-width="0.4"/>
<circle cx="311.10" cy="524.00" r="1.38" fill="#22cbb0" stroke="#22cbb0" stroke-width="0.4"/>
<circle cx="315.20" cy="516.00" r="1.38" fill="#22cbb0" stroke="#22cbb0" stroke-width="0.4"/>
<circle cx="319.30" cy="504.00" r="1.38" fill="#22cbb0" stroke="#22cbb0" stroke-width="0.4"/>
<circle cx="323.40" cy="487.00" r="1.38" fill="#22cbb0" stroke="#22cbb0" stroke-width="0.4"/>
<circle cx="327.50" cy="470.00" r="1.38" fill="#22cbb0" stroke="#22cbb0" stroke-width="0.4"/>
<circle cx="331.60" cy="454.60" r="1.38" fill="#22cbb0" stroke="#22cbb0" stroke-width="0.4"/>
<circle cx="335.70" cy="444.00" r="1.38" fill="#22cbb0" stroke="#22cbb0" stroke-width="0.4"/>
<circle cx="339.80" cy="438.00" r="1.38" fill="#22cbb0" stroke="#22cbb0" stroke-width="0.4"/>
<circle cx="343.90" cy="436.50" r="1.38" fill="#22cbb0" stroke="#22cbb0" stroke-width="0.4"/>
<circle cx="348.00" cy="436.30" r="1.38" fill="#22cbb0" stroke="#22cbb0" stroke-width="0.4"/>
<circle cx="352.10" cy="436.10" r="1.38" fill="#22cbb0" stroke="#22cbb0" stroke-width="0.4"/>
<circle cx="356.20" cy="436.28" r="1.38" fill="#22cbb0" stroke="#22cbb0" stroke-width="0.4"/>
<circle cx="360.30" cy="436.46" r="1.38" fill="#22cbb0" stroke="#22cbb0" stroke-width="0.4"/>
<circle cx="364.40" cy="436.64" r="1.38" fill="#22cbb0" stroke="#22cbb0" stroke-width="0.4"/>
<circle cx="368.50" cy="436.83" r="1.38" fill="#22cbb0" stroke="#22cbb0" stroke-width="0.4"/>
<circle cx="372.60" cy="437.01" r="1.38" fill="#22cbb0" stroke="#22cbb0" stroke-width="0.4"/>
<circle cx="376.70" cy="437.19" r="1.38" fill="#22cbb0" stroke="#22cbb0" stroke-width="0.4"/>
<circle cx="380.80" cy="437.37" r="1.38" fill="#22cbb0" stroke="#22cbb0" stroke-width="0.4"/>
<circle cx="384.90" cy="437.55" r="1.38" fill="#22cbb0" stroke="#22cbb0" stroke-width="0.4"/>
<circle cx="389.00" cy="437.73" r="1.38" fill="#22cbb0" stroke="#22cbb0" stroke-width="0.4"/>
<circle cx="393.10" cy="437.91" r="1.38" fill="#22cbb0" stroke="#22cbb0" stroke-width="0.4"/>
<circle cx="397.20" cy="438.09" r="1.38" fill="#22cbb0" stroke="#22cbb0" stroke-width="0.4"/>
<circle cx="401.30" cy="438.27" r="1.38" fill="#22cbb0" stroke="#22cbb0" stroke-width="0.4"/>
<circle cx="405.40" cy="438.46" r="1.38" fill="#22cbb0" stroke="#22cbb0" stroke-width="0.4"/>
<circle cx="409.50" cy="438.64" r="1.38" fill="#22cbb0" stroke="#22cbb0" stroke-width="0.4"/>
<circle cx="413.60" cy="438.82" r="1.38" fill="#22cbb0" stroke="#22cbb0" stroke-width="0.4"/>
<circle cx="417.70" cy="439.00" r="1.38" fill="#22cbb0" stroke="#22cbb0" stroke-width="0.4"/>
<polyline points="298.80,529.00 302.90,528.50 307.00,527.00 311.10,523.00 315.20,514.00 319.30,500.00 323.40,482.00 327.50,465.00 331.60,450.60 335.70,441.00 339.80,436.60 343.90,435.00 348.00,434.85 352.10,434.70 356.20,434.97 360.30,435.24 364.40,435.51 368.50,435.77 372.60,436.04 376.70,436.31 380.80,436.58 384.90,436.85 389.00,437.12 393.10,437.39 397.20,437.66 401.30,437.93 405.40,438.19 409.50,438.46 413.60,438.73 417.70,439.00" fill="none" stroke="#8ee6b0" stroke-width="0.45"/>
<circle cx="298.80" cy="529.00" r="1.38" fill="#20c068" stroke="#20c068" stroke-width="0.4"/>
<circle cx="302.90" cy="528.50" r="1.38" fill="#20c068" stroke="#20c068" stroke-width="0.4"/>
<circle cx="307.00" cy="527.00" r="1.38" fill="#20c068" stroke="#20c068" stroke-width="0.4"/>
<circle cx="311.10" cy="523.00" r="1.38" fill="#20c068" stroke="#20c068" stroke-width="0.4"/>
<circle cx="315.20" cy="514.00" r="1.38" fill="#20c068" stroke="#20c068" stroke-width="0.4"/>
<circle cx="319.30" cy="500.00" r="1.38" fill="#20c068" stroke="#20c068" stroke-width="0.4"/>
<circle cx="323.40" cy="482.00" r="1.38" fill="#20c068" stroke="#20c068" stroke-width="0.4"/>
<circle cx="327.50" cy="465.00" r="1.38" fill="#20c068" stroke="#20c068" stroke-width="0.4"/>
<circle cx="331.60" cy="450.60" r="1.38" fill="#20c068" stroke="#20c068" stroke-width="0.4"/>
<circle cx="335.70" cy="441.00" r="1.38" fill="#20c068" stroke="#20c068" stroke-width="0.4"/>
<circle cx="339.80" cy="436.60" r="1.38" fill="#20c068" stroke="#20c068" stroke-width="0.4"/>
<circle cx="343.90" cy="435.00" r="1.38" fill="#20c068" stroke="#20c068" stroke-width="0.4"/>
<circle cx="348.00" cy="434.85" r="1.38" fill="#20c068" stroke="#20c068" stroke-width="0.4"/>
<circle cx="352.10" cy="434.70" r="1.38" fill="#20c068" stroke="#20c068" stroke-width="0.4"/>
<circle cx="356.20" cy="434.97" r="1.38" fill="#20c068" stroke="#20c068" stroke-width="0.4"/>
<circle cx="360.30" cy="435.24" r="1.38" fill="#20c068" stroke="#20c068" stroke-width="0.4"/>
<circle cx="364.40" cy="435.51" r="1.38" fill="#20c068" stroke="#20c068" stroke-width="0.4"/>
<circle cx="368.50" cy="435.77" r="1.38" fill="#20c068" stroke="#20c068" stroke-width="0.4"/>
<circle cx="372.60" cy="436.04" r="1.38" fill="#20c068" stroke="#20c068" stroke-width="0.4"/>
<circle cx="376.70" cy="436.31" r="1.38" fill="#20c068" stroke="#20c068" stroke-width="0.4"/>
<circle cx="380.80" cy="436.58" r="1.38" fill="#20c068" stroke="#20c068" stroke-width="0.4"/>
<circle cx="384.90" cy="436.85" r="1.38" fill="#20c068" stroke="#20c068" stroke-width="0.4"/>
<circle cx="389.00" cy="437.12" r="1.38" fill="#20c068" stroke="#20c068" stroke-width="0.4"/>
<circle cx="393.10" cy="437.39" r="1.38" fill="#20c068" stroke="#20c068" stroke-width="0.4"/>
<circle cx="397.20" cy="437.66" r="1.38" fill="#20c068" stroke="#20c068" stroke-width="0.4"/>
<circle cx="401.30" cy="437.93" r="1.38" fill="#20c068" stroke="#20c068" stroke-width="0.4"/>
<circle cx="405.40" cy="438.19" r="1.38" fill="#20c068" stroke="#20c068" stroke-width="0.4"/>
<circle cx="409.50" cy="438.46" r="1.38" fill="#20c068" stroke="#20c068" stroke-width="0.4"/>
<circle cx="413.60" cy="438.73" r="1.38" fill="#20c068" stroke="#20c068" stroke-width="0.4"/>
<circle cx="417.70" cy="439.00" r="1.38" fill="#20c068" stroke="#20c068" stroke-width="0.4"/>
<polyline points="298.80,528.60 302.90,528.00 307.00,525.00 311.10,519.00 315.20,505.40 319.30,485.00 323.40,464.60 327.50,459.40 331.60,447.00 335.70,439.00 339.80,434.60 343.90,432.60 348.00,432.20 352.10,431.80 356.20,431.60 360.30,431.80 364.40,432.00 368.50,432.21 372.60,432.42 376.70,432.62 380.80,432.83 384.90,433.04 389.00,433.25 393.10,433.45 397.20,433.66 401.30,433.87 405.40,434.08 409.50,434.28 413.60,434.49 417.70,434.70" fill="none" stroke="#7fb8b8" stroke-width="0.45"/>
<circle cx="298.80" cy="528.60" r="1.38" fill="#175f66" stroke="#175f66" stroke-width="0.4"/>
<circle cx="302.90" cy="528.00" r="1.38" fill="#175f66" stroke="#175f66" stroke-width="0.4"/>
<circle cx="307.00" cy="525.00" r="1.38" fill="#175f66" stroke="#175f66" stroke-width="0.4"/>
<circle cx="311.10" cy="519.00" r="1.38" fill="#175f66" stroke="#175f66" stroke-width="0.4"/>
<circle cx="315.20" cy="505.40" r="1.38" fill="#175f66" stroke="#175f66" stroke-width="0.4"/>
<circle cx="319.30" cy="485.00" r="1.38" fill="#175f66" stroke="#175f66" stroke-width="0.4"/>
<circle cx="323.40" cy="464.60" r="1.38" fill="#175f66" stroke="#175f66" stroke-width="0.4"/>
<circle cx="327.50" cy="459.40" r="1.38" fill="#175f66" stroke="#175f66" stroke-width="0.4"/>
<circle cx="331.60" cy="447.00" r="1.38" fill="#175f66" stroke="#175f66" stroke-width="0.4"/>
<circle cx="335.70" cy="439.00" r="1.38" fill="#175f66" stroke="#175f66" stroke-width="0.4"/>
<circle cx="339.80" cy="434.60" r="1.38" fill="#175f66" stroke="#175f66" stroke-width="0.4"/>
<circle cx="343.90" cy="432.60" r="1.38" fill="#175f66" stroke="#175f66" stroke-width="0.4"/>
<circle cx="348.00" cy="432.20" r="1.38" fill="#175f66" stroke="#175f66" stroke-width="0.4"/>
<circle cx="352.10" cy="431.80" r="1.38" fill="#175f66" stroke="#175f66" stroke-width="0.4"/>
<circle cx="356.20" cy="431.60" r="1.38" fill="#175f66" stroke="#175f66" stroke-width="0.4"/>
<circle cx="360.30" cy="431.80" r="1.38" fill="#175f66" stroke="#175f66" stroke-width="0.4"/>
<circle cx="364.40" cy="432.00" r="1.38" fill="#175f66" stroke="#175f66" stroke-width="0.4"/>
<circle cx="368.50" cy="432.21" r="1.38" fill="#175f66" stroke="#175f66" stroke-width="0.4"/>
<circle cx="372.60" cy="432.42" r="1.38" fill="#175f66" stroke="#175f66" stroke-width="0.4"/>
<circle cx="376.70" cy="432.62" r="1.38" fill="#175f66" stroke="#175f66" stroke-width="0.4"/>
<circle cx="380.80" cy="432.83" r="1.38" fill="#175f66" stroke="#175f66" stroke-width="0.4"/>
<circle cx="384.90" cy="433.04" r="1.38" fill="#175f66" stroke="#175f66" stroke-width="0.4"/>
<circle cx="389.00" cy="433.25" r="1.38" fill="#175f66" stroke="#175f66" stroke-width="0.4"/>
<circle cx="393.10" cy="433.45" r="1.38" fill="#175f66" stroke="#175f66" stroke-width="0.4"/>
<circle cx="397.20" cy="433.66" r="1.38" fill="#175f66" stroke="#175f66" stroke-width="0.4"/>
<circle cx="401.30" cy="433.87" r="1.38" fill="#175f66" stroke="#175f66" stroke-width="0.4"/>
<circle cx="405.40" cy="434.08" r="1.38" fill="#175f66" stroke="#175f66" stroke-width="0.4"/>
<circle cx="409.50" cy="434.28" r="1.38" fill="#175f66" stroke="#175f66" stroke-width="0.4"/>
<circle cx="413.60" cy="434.49" r="1.38" fill="#175f66" stroke="#175f66" stroke-width="0.4"/>
<circle cx="417.70" cy="434.70" r="1.38" fill="#175f66" stroke="#175f66" stroke-width="0.4"/>
<line x1="432.1" y1="436.6" x2="440.5" y2="436.6" stroke="#7fb8b8" stroke-width="0.45"/>
<circle cx="436.3" cy="436.6" r="1.3" fill="#175f66" stroke="#175f66" stroke-width="0.4"/>
<text x="445.60" y="438.20" font-size="4.6" fill="#222" stroke="#222" stroke-width="0.18">1 nM</text>
<line x1="432.1" y1="444.0" x2="440.5" y2="444.0" stroke="#8ee6b0" stroke-width="0.45"/>
<circle cx="436.3" cy="444.0" r="1.3" fill="#20c068" stroke="#20c068" stroke-width="0.4"/>
<text x="445.60" y="445.60" font-size="4.6" fill="#222" stroke="#222" stroke-width="0.18">500 pM</text>
<line x1="432.1" y1="451.40000000000003" x2="440.5" y2="451.40000000000003" stroke="#8ef0e0" stroke-width="0.45"/>
<circle cx="436.3" cy="451.40000000000003" r="1.3" fill="#22cbb0" stroke="#22cbb0" stroke-width="0.4"/>
<text x="445.60" y="453.00" font-size="4.6" fill="#222" stroke="#222" stroke-width="0.18">500 fM</text>
<line x1="432.1" y1="458.8" x2="440.5" y2="458.8" stroke="#dcee9a" stroke-width="0.45"/>
<circle cx="436.3" cy="458.8" r="1.3" fill="#a9cc33" stroke="#a9cc33" stroke-width="0.4"/>
<text x="445.60" y="460.40" font-size="4.6" fill="#222" stroke="#222" stroke-width="0.18">500 aM</text>
<line x1="432.1" y1="466.20000000000005" x2="440.5" y2="466.20000000000005" stroke="#c8e0d0" stroke-width="0.45"/>
<circle cx="436.3" cy="466.20000000000005" r="1.3" fill="#b5d2bf" stroke="#88aa96" stroke-width="0.4"/>
<text x="445.60" y="467.80" font-size="4.6" fill="#222" stroke="#222" stroke-width="0.18">100 aM</text>
<line x1="432.1" y1="473.6" x2="440.5" y2="473.6" stroke="#bbbbbb" stroke-width="0.45"/>
<circle cx="436.3" cy="473.6" r="1.3" fill="#ffffff" stroke="#999999" stroke-width="0.4"/>
<text x="445.60" y="475.20" font-size="4.6" fill="#222" stroke="#222" stroke-width="0.18">50 aM</text>
<line x1="432.1" y1="481.0" x2="440.5" y2="481.0" stroke="#999999" stroke-width="0.45"/>
<circle cx="436.3" cy="481.0" r="1.3" fill="#7a7a7a" stroke="#4e4e4e" stroke-width="0.4"/>
<text x="445.60" y="482.60" font-size="4.6" fill="#222" stroke="#222" stroke-width="0.18">NTC</text>
</svg>
</body></html>
